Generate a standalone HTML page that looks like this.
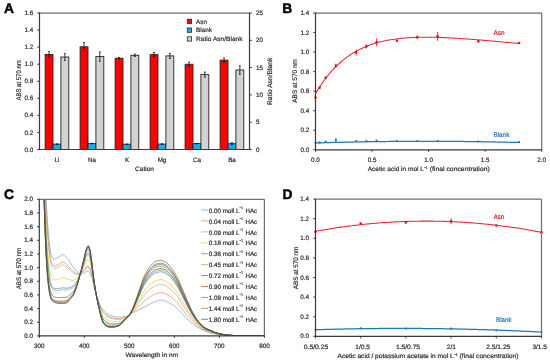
<!DOCTYPE html>
<html><head><meta charset="utf-8"><style>
html,body{margin:0;padding:0;background:#fff;}
svg{display:block;font-family:"Liberation Sans", sans-serif;will-change:transform;text-rendering:geometricPrecision;}
</style></head><body>
<svg width="550" height="362" viewBox="0 0 550 362">
<rect width="550" height="362" fill="#fff"/>
<text x="9.1" y="8.3" font-size="13.8" text-anchor="middle" fill="#000" dominant-baseline="central" font-weight="bold" stroke="#000" stroke-width="0.45">A</text>
<rect x="45.1" y="54.46" width="7.9" height="95.04" fill="#ff0000" stroke="#242424" stroke-width="0.9"/>
<line x1="49.05" y1="51.48" x2="49.05" y2="57.45" stroke="#111" stroke-width="0.8"/>
<line x1="48.15" y1="51.48" x2="49.95" y2="51.48" stroke="#111" stroke-width="0.8"/>
<line x1="48.15" y1="57.45" x2="49.95" y2="57.45" stroke="#111" stroke-width="0.8"/>
<rect x="53" y="144.13" width="7.9" height="5.37" fill="#12aef0" stroke="#242424" stroke-width="0.9"/>
<line x1="56.95" y1="143.87" x2="56.95" y2="144.38" stroke="#111" stroke-width="0.8"/>
<line x1="56.05" y1="143.87" x2="57.85" y2="143.87" stroke="#111" stroke-width="0.8"/>
<line x1="56.05" y1="144.38" x2="57.85" y2="144.38" stroke="#111" stroke-width="0.8"/>
<rect x="60.9" y="57.02" width="7.9" height="92.48" fill="#d2d2d2" stroke="#242424" stroke-width="0.9"/>
<line x1="64.85" y1="53.61" x2="64.85" y2="60.43" stroke="#111" stroke-width="0.8"/>
<line x1="63.95" y1="53.61" x2="65.75" y2="53.61" stroke="#111" stroke-width="0.8"/>
<line x1="63.95" y1="60.43" x2="65.75" y2="60.43" stroke="#111" stroke-width="0.8"/>
<rect x="80.1" y="46.78" width="7.9" height="102.72" fill="#ff0000" stroke="#242424" stroke-width="0.9"/>
<line x1="84.05" y1="42.52" x2="84.05" y2="51.05" stroke="#111" stroke-width="0.8"/>
<line x1="83.15" y1="42.52" x2="84.95" y2="42.52" stroke="#111" stroke-width="0.8"/>
<line x1="83.15" y1="51.05" x2="84.95" y2="51.05" stroke="#111" stroke-width="0.8"/>
<rect x="88" y="143.53" width="7.9" height="5.97" fill="#12aef0" stroke="#242424" stroke-width="0.9"/>
<line x1="91.95" y1="143.27" x2="91.95" y2="143.78" stroke="#111" stroke-width="0.8"/>
<line x1="91.05" y1="143.27" x2="92.85" y2="143.27" stroke="#111" stroke-width="0.8"/>
<line x1="91.05" y1="143.78" x2="92.85" y2="143.78" stroke="#111" stroke-width="0.8"/>
<rect x="95.9" y="56.59" width="7.9" height="92.91" fill="#d2d2d2" stroke="#242424" stroke-width="0.9"/>
<line x1="99.85" y1="51.9" x2="99.85" y2="61.29" stroke="#111" stroke-width="0.8"/>
<line x1="98.95" y1="51.9" x2="100.75" y2="51.9" stroke="#111" stroke-width="0.8"/>
<line x1="98.95" y1="61.29" x2="100.75" y2="61.29" stroke="#111" stroke-width="0.8"/>
<rect x="115.1" y="58.22" width="7.9" height="91.28" fill="#ff0000" stroke="#242424" stroke-width="0.9"/>
<line x1="119.05" y1="57.53" x2="119.05" y2="58.9" stroke="#111" stroke-width="0.8"/>
<line x1="118.15" y1="57.53" x2="119.95" y2="57.53" stroke="#111" stroke-width="0.8"/>
<line x1="118.15" y1="58.9" x2="119.95" y2="58.9" stroke="#111" stroke-width="0.8"/>
<rect x="123" y="144.21" width="7.9" height="5.29" fill="#12aef0" stroke="#242424" stroke-width="0.9"/>
<line x1="126.95" y1="144.04" x2="126.95" y2="144.38" stroke="#111" stroke-width="0.8"/>
<line x1="126.05" y1="144.04" x2="127.85" y2="144.04" stroke="#111" stroke-width="0.8"/>
<line x1="126.05" y1="144.38" x2="127.85" y2="144.38" stroke="#111" stroke-width="0.8"/>
<rect x="130.9" y="55.31" width="7.9" height="94.19" fill="#d2d2d2" stroke="#242424" stroke-width="0.9"/>
<line x1="134.85" y1="54.04" x2="134.85" y2="56.59" stroke="#111" stroke-width="0.8"/>
<line x1="133.95" y1="54.04" x2="135.75" y2="54.04" stroke="#111" stroke-width="0.8"/>
<line x1="133.95" y1="56.59" x2="135.75" y2="56.59" stroke="#111" stroke-width="0.8"/>
<rect x="150.1" y="54.63" width="7.9" height="94.87" fill="#ff0000" stroke="#242424" stroke-width="0.9"/>
<line x1="154.05" y1="52.5" x2="154.05" y2="56.77" stroke="#111" stroke-width="0.8"/>
<line x1="153.15" y1="52.5" x2="154.95" y2="52.5" stroke="#111" stroke-width="0.8"/>
<line x1="153.15" y1="56.77" x2="154.95" y2="56.77" stroke="#111" stroke-width="0.8"/>
<rect x="158" y="144.04" width="7.9" height="5.46" fill="#12aef0" stroke="#242424" stroke-width="0.9"/>
<line x1="161.95" y1="143.87" x2="161.95" y2="144.21" stroke="#111" stroke-width="0.8"/>
<line x1="161.05" y1="143.87" x2="162.85" y2="143.87" stroke="#111" stroke-width="0.8"/>
<line x1="161.05" y1="144.21" x2="162.85" y2="144.21" stroke="#111" stroke-width="0.8"/>
<rect x="165.9" y="55.91" width="7.9" height="93.59" fill="#d2d2d2" stroke="#242424" stroke-width="0.9"/>
<line x1="169.85" y1="53.35" x2="169.85" y2="58.47" stroke="#111" stroke-width="0.8"/>
<line x1="168.95" y1="53.35" x2="170.75" y2="53.35" stroke="#111" stroke-width="0.8"/>
<line x1="168.95" y1="58.47" x2="170.75" y2="58.47" stroke="#111" stroke-width="0.8"/>
<rect x="185.1" y="64.27" width="7.9" height="85.23" fill="#ff0000" stroke="#242424" stroke-width="0.9"/>
<line x1="189.05" y1="62.14" x2="189.05" y2="66.41" stroke="#111" stroke-width="0.8"/>
<line x1="188.15" y1="62.14" x2="189.95" y2="62.14" stroke="#111" stroke-width="0.8"/>
<line x1="188.15" y1="66.41" x2="189.95" y2="66.41" stroke="#111" stroke-width="0.8"/>
<rect x="193" y="143.53" width="7.9" height="5.97" fill="#12aef0" stroke="#242424" stroke-width="0.9"/>
<line x1="196.95" y1="143.27" x2="196.95" y2="143.78" stroke="#111" stroke-width="0.8"/>
<line x1="196.05" y1="143.27" x2="197.85" y2="143.27" stroke="#111" stroke-width="0.8"/>
<line x1="196.05" y1="143.78" x2="197.85" y2="143.78" stroke="#111" stroke-width="0.8"/>
<rect x="200.9" y="74.6" width="7.9" height="74.9" fill="#d2d2d2" stroke="#242424" stroke-width="0.9"/>
<line x1="204.85" y1="72.04" x2="204.85" y2="77.16" stroke="#111" stroke-width="0.8"/>
<line x1="203.95" y1="72.04" x2="205.75" y2="72.04" stroke="#111" stroke-width="0.8"/>
<line x1="203.95" y1="77.16" x2="205.75" y2="77.16" stroke="#111" stroke-width="0.8"/>
<rect x="220.1" y="60.18" width="7.9" height="89.32" fill="#ff0000" stroke="#242424" stroke-width="0.9"/>
<line x1="224.05" y1="58.05" x2="224.05" y2="62.31" stroke="#111" stroke-width="0.8"/>
<line x1="223.15" y1="58.05" x2="224.95" y2="58.05" stroke="#111" stroke-width="0.8"/>
<line x1="223.15" y1="62.31" x2="224.95" y2="62.31" stroke="#111" stroke-width="0.8"/>
<rect x="228" y="143.7" width="7.9" height="5.8" fill="#12aef0" stroke="#242424" stroke-width="0.9"/>
<line x1="231.95" y1="142.68" x2="231.95" y2="144.72" stroke="#111" stroke-width="0.8"/>
<line x1="231.05" y1="142.68" x2="232.85" y2="142.68" stroke="#111" stroke-width="0.8"/>
<line x1="231.05" y1="144.72" x2="232.85" y2="144.72" stroke="#111" stroke-width="0.8"/>
<rect x="235.9" y="69.99" width="7.9" height="79.51" fill="#d2d2d2" stroke="#242424" stroke-width="0.9"/>
<line x1="239.85" y1="65.72" x2="239.85" y2="74.25" stroke="#111" stroke-width="0.8"/>
<line x1="238.95" y1="65.72" x2="240.75" y2="65.72" stroke="#111" stroke-width="0.8"/>
<line x1="238.95" y1="74.25" x2="240.75" y2="74.25" stroke="#111" stroke-width="0.8"/>
<line x1="39.5" y1="13" x2="249.5" y2="13" stroke="#717171" stroke-width="1.25"/>
<line x1="39.5" y1="12.5" x2="39.5" y2="150" stroke="#3a3a3a" stroke-width="1.2"/>
<line x1="249.5" y1="12.5" x2="249.5" y2="150" stroke="#3a3a3a" stroke-width="1.2"/>
<line x1="39" y1="149.5" x2="250" y2="149.5" stroke="#3a3a3a" stroke-width="1.2"/>
<line x1="37.2" y1="149.5" x2="39.5" y2="149.5" stroke="#3a3a3a" stroke-width="1"/>
<text x="33.2" y="150.1" font-size="6.3" text-anchor="end" fill="#2e2e2e" dominant-baseline="central" stroke="#2e2e2e" stroke-width="0.2">0.0</text>
<line x1="37.2" y1="132.44" x2="39.5" y2="132.44" stroke="#3a3a3a" stroke-width="1"/>
<text x="33.2" y="133.04" font-size="6.3" text-anchor="end" fill="#2e2e2e" dominant-baseline="central" stroke="#2e2e2e" stroke-width="0.2">0.2</text>
<line x1="37.2" y1="115.38" x2="39.5" y2="115.38" stroke="#3a3a3a" stroke-width="1"/>
<text x="33.2" y="115.97" font-size="6.3" text-anchor="end" fill="#2e2e2e" dominant-baseline="central" stroke="#2e2e2e" stroke-width="0.2">0.4</text>
<line x1="37.2" y1="98.31" x2="39.5" y2="98.31" stroke="#3a3a3a" stroke-width="1"/>
<text x="33.2" y="98.91" font-size="6.3" text-anchor="end" fill="#2e2e2e" dominant-baseline="central" stroke="#2e2e2e" stroke-width="0.2">0.6</text>
<line x1="37.2" y1="81.25" x2="39.5" y2="81.25" stroke="#3a3a3a" stroke-width="1"/>
<text x="33.2" y="81.85" font-size="6.3" text-anchor="end" fill="#2e2e2e" dominant-baseline="central" stroke="#2e2e2e" stroke-width="0.2">0.8</text>
<line x1="37.2" y1="64.19" x2="39.5" y2="64.19" stroke="#3a3a3a" stroke-width="1"/>
<text x="33.2" y="64.79" font-size="6.3" text-anchor="end" fill="#2e2e2e" dominant-baseline="central" stroke="#2e2e2e" stroke-width="0.2">1.0</text>
<line x1="37.2" y1="47.12" x2="39.5" y2="47.12" stroke="#3a3a3a" stroke-width="1"/>
<text x="33.2" y="47.72" font-size="6.3" text-anchor="end" fill="#2e2e2e" dominant-baseline="central" stroke="#2e2e2e" stroke-width="0.2">1.2</text>
<line x1="37.2" y1="30.06" x2="39.5" y2="30.06" stroke="#3a3a3a" stroke-width="1"/>
<text x="33.2" y="30.66" font-size="6.3" text-anchor="end" fill="#2e2e2e" dominant-baseline="central" stroke="#2e2e2e" stroke-width="0.2">1.4</text>
<line x1="37.2" y1="13" x2="39.5" y2="13" stroke="#3a3a3a" stroke-width="1"/>
<text x="33.2" y="13.6" font-size="6.3" text-anchor="end" fill="#2e2e2e" dominant-baseline="central" stroke="#2e2e2e" stroke-width="0.2">1.6</text>
<line x1="249.5" y1="149.5" x2="251.8" y2="149.5" stroke="#3a3a3a" stroke-width="1"/>
<text x="256" y="150.1" font-size="6.3" text-anchor="start" fill="#2e2e2e" dominant-baseline="central" stroke="#2e2e2e" stroke-width="0.2">0</text>
<line x1="249.5" y1="122.2" x2="251.8" y2="122.2" stroke="#3a3a3a" stroke-width="1"/>
<text x="256" y="122.8" font-size="6.3" text-anchor="start" fill="#2e2e2e" dominant-baseline="central" stroke="#2e2e2e" stroke-width="0.2">5</text>
<line x1="249.5" y1="94.9" x2="251.8" y2="94.9" stroke="#3a3a3a" stroke-width="1"/>
<text x="256" y="95.5" font-size="6.3" text-anchor="start" fill="#2e2e2e" dominant-baseline="central" stroke="#2e2e2e" stroke-width="0.2">10</text>
<line x1="249.5" y1="67.6" x2="251.8" y2="67.6" stroke="#3a3a3a" stroke-width="1"/>
<text x="256" y="68.2" font-size="6.3" text-anchor="start" fill="#2e2e2e" dominant-baseline="central" stroke="#2e2e2e" stroke-width="0.2">15</text>
<line x1="249.5" y1="40.3" x2="251.8" y2="40.3" stroke="#3a3a3a" stroke-width="1"/>
<text x="256" y="40.9" font-size="6.3" text-anchor="start" fill="#2e2e2e" dominant-baseline="central" stroke="#2e2e2e" stroke-width="0.2">20</text>
<line x1="249.5" y1="13" x2="251.8" y2="13" stroke="#3a3a3a" stroke-width="1"/>
<text x="256" y="13.6" font-size="6.3" text-anchor="start" fill="#2e2e2e" dominant-baseline="central" stroke="#2e2e2e" stroke-width="0.2">25</text>
<text x="57" y="160.1" font-size="6.3" text-anchor="middle" fill="#2e2e2e" dominant-baseline="central" stroke="#2e2e2e" stroke-width="0.2">Li</text>
<text x="92" y="160.1" font-size="6.3" text-anchor="middle" fill="#2e2e2e" dominant-baseline="central" stroke="#2e2e2e" stroke-width="0.2">Na</text>
<text x="127" y="160.1" font-size="6.3" text-anchor="middle" fill="#2e2e2e" dominant-baseline="central" stroke="#2e2e2e" stroke-width="0.2">K</text>
<text x="162" y="160.1" font-size="6.3" text-anchor="middle" fill="#2e2e2e" dominant-baseline="central" stroke="#2e2e2e" stroke-width="0.2">Mg</text>
<text x="197" y="160.1" font-size="6.3" text-anchor="middle" fill="#2e2e2e" dominant-baseline="central" stroke="#2e2e2e" stroke-width="0.2">Ca</text>
<text x="232" y="160.1" font-size="6.3" text-anchor="middle" fill="#2e2e2e" dominant-baseline="central" stroke="#2e2e2e" stroke-width="0.2">Ba</text>
<text x="144.5" y="169.4" font-size="6.3" text-anchor="middle" fill="#2e2e2e" dominant-baseline="central" textLength="18.8" lengthAdjust="spacingAndGlyphs" stroke="#2e2e2e" stroke-width="0.2">Cation</text>
<text x="19.3" y="80.4" font-size="6.7" text-anchor="middle" fill="#2e2e2e" dominant-baseline="central" textLength="40.4" lengthAdjust="spacingAndGlyphs" stroke="#2e2e2e" stroke-width="0.2" transform="rotate(-90 19.3 80.4)">ABS at 570 nm</text>
<text x="270.7" y="81.3" font-size="6.6" text-anchor="middle" fill="#2e2e2e" dominant-baseline="central" textLength="47.5" lengthAdjust="spacingAndGlyphs" stroke="#2e2e2e" stroke-width="0.2" transform="rotate(-90 270.7 81.3)">Ratio Asn/Blank</text>
<rect x="187.3" y="19.2" width="4.3" height="4.3" fill="#ff0000" stroke="#2a2a2a" stroke-width="0.8"/>
<text x="196.1" y="22" font-size="6.3" text-anchor="start" fill="#2e2e2e" dominant-baseline="central" stroke="#2e2e2e" stroke-width="0.2">Asn</text>
<rect x="187.3" y="28" width="4.3" height="4.3" fill="#12aef0" stroke="#2a2a2a" stroke-width="0.8"/>
<text x="196.1" y="30.8" font-size="6.3" text-anchor="start" fill="#2e2e2e" dominant-baseline="central" stroke="#2e2e2e" stroke-width="0.2">Blank</text>
<rect x="187.3" y="36.8" width="4.3" height="4.3" fill="#d2d2d2" stroke="#2a2a2a" stroke-width="0.8"/>
<text x="196.1" y="39.6" font-size="6.3" text-anchor="start" fill="#2e2e2e" dominant-baseline="central" textLength="46.5" lengthAdjust="spacingAndGlyphs" stroke="#2e2e2e" stroke-width="0.2">Ratio Asn/Blank</text>
<text x="287.2" y="8.4" font-size="13.8" text-anchor="middle" fill="#000" dominant-baseline="central" font-weight="bold" stroke="#000" stroke-width="0.45">B</text>
<polyline points="315.5,93.76 317.21,90.88 318.92,88.12 320.63,85.48 322.34,82.96 324.05,80.56 325.76,78.26 327.48,76.06 329.19,73.96 330.9,71.96 332.61,70.05 334.32,68.23 336.03,66.49 337.74,64.83 339.45,63.25 341.16,61.75 342.87,60.31 344.58,58.94 346.29,57.64 348,56.4 349.72,55.22 351.43,54.09 353.14,53.02 354.85,52.01 356.56,51.05 358.27,50.13 359.98,49.26 361.69,48.44 363.4,47.65 365.11,46.91 366.82,46.21 368.53,45.55 370.24,44.92 371.95,44.33 373.67,43.77 375.38,43.24 377.09,42.74 378.8,42.28 380.51,41.84 382.22,41.42 383.93,41.04 385.64,40.67 387.35,40.33 389.06,40.02 390.77,39.72 392.48,39.45 394.19,39.2 395.91,38.96 397.62,38.75 399.33,38.55 401.04,38.37 402.75,38.2 404.46,38.05 406.17,37.91 407.88,37.79 409.59,37.68 411.3,37.59 413.01,37.51 414.72,37.44 416.43,37.38 418.15,37.33 419.86,37.29 421.57,37.26 423.28,37.24 424.99,37.23 426.7,37.23 428.41,37.24 430.12,37.26 431.83,37.28 433.54,37.31 435.25,37.35 436.96,37.39 438.67,37.44 440.39,37.5 442.1,37.56 443.81,37.63 445.52,37.7 447.23,37.78 448.94,37.86 450.65,37.95 452.36,38.04 454.07,38.13 455.78,38.23 457.49,38.34 459.2,38.45 460.91,38.56 462.63,38.67 464.34,38.79 466.05,38.91 467.76,39.03 469.47,39.16 471.18,39.28 472.89,39.42 474.6,39.55 476.31,39.68 478.02,39.82 479.73,39.96 481.44,40.1 483.15,40.24 484.86,40.39 486.58,40.53 488.29,40.68 490,40.83 491.71,40.98 493.42,41.13 495.13,41.28 496.84,41.44 498.55,41.59 500.26,41.74 501.97,41.9 503.68,42.06 505.39,42.22 507.1,42.37 508.82,42.53 510.53,42.69 512.24,42.85 513.95,43.01 515.66,43.17 517.37,43.34 519.08,43.5" fill="none" stroke="#e8242a" stroke-width="1.05" stroke-linejoin="round"/>
<polyline points="315.5,142.96 317.21,142.91 318.92,142.86 320.63,142.81 322.34,142.76 324.05,142.71 325.76,142.66 327.48,142.62 329.19,142.57 330.9,142.53 332.61,142.48 334.32,142.44 336.03,142.4 337.74,142.36 339.45,142.31 341.16,142.27 342.87,142.24 344.58,142.2 346.29,142.16 348,142.12 349.72,142.09 351.43,142.05 353.14,142.02 354.85,141.98 356.56,141.95 358.27,141.92 359.98,141.89 361.69,141.86 363.4,141.83 365.11,141.8 366.82,141.77 368.53,141.74 370.24,141.72 371.95,141.69 373.67,141.67 375.38,141.64 377.09,141.62 378.8,141.6 380.51,141.58 382.22,141.55 383.93,141.53 385.64,141.52 387.35,141.5 389.06,141.48 390.77,141.46 392.48,141.45 394.19,141.43 395.91,141.42 397.62,141.4 399.33,141.39 401.04,141.38 402.75,141.37 404.46,141.36 406.17,141.35 407.88,141.34 409.59,141.33 411.3,141.33 413.01,141.32 414.72,141.31 416.43,141.31 418.15,141.3 419.86,141.3 421.57,141.3 423.28,141.3 424.99,141.3 426.7,141.3 428.41,141.3 430.12,141.3 431.83,141.3 433.54,141.31 435.25,141.31 436.96,141.32 438.67,141.32 440.39,141.33 442.1,141.34 443.81,141.34 445.52,141.35 447.23,141.36 448.94,141.37 450.65,141.38 452.36,141.4 454.07,141.41 455.78,141.42 457.49,141.44 459.2,141.45 460.91,141.47 462.63,141.49 464.34,141.51 466.05,141.52 467.76,141.54 469.47,141.56 471.18,141.58 472.89,141.61 474.6,141.63 476.31,141.65 478.02,141.68 479.73,141.7 481.44,141.73 483.15,141.76 484.86,141.78 486.58,141.81 488.29,141.84 490,141.87 491.71,141.9 493.42,141.93 495.13,141.96 496.84,142 498.55,142.03 500.26,142.07 501.97,142.1 503.68,142.14 505.39,142.18 507.1,142.21 508.82,142.25 510.53,142.29 512.24,142.33 513.95,142.37 515.66,142.42 517.37,142.46 519.08,142.5" fill="none" stroke="#1f77b8" stroke-width="1.25" stroke-linejoin="round"/>
<circle cx="315.5" cy="97.62" r="1.3" fill="#e8141c"/>
<circle cx="319.57" cy="87.75" r="1.3" fill="#e8141c"/>
<line x1="319.57" y1="86.77" x2="319.57" y2="88.73" stroke="#e8141c" stroke-width="0.9"/>
<circle cx="325.68" cy="77.78" r="1.3" fill="#e8141c"/>
<line x1="325.68" y1="76.32" x2="325.68" y2="79.25" stroke="#e8141c" stroke-width="0.9"/>
<circle cx="335.86" cy="65.77" r="1.3" fill="#e8141c"/>
<line x1="335.86" y1="63.62" x2="335.86" y2="67.92" stroke="#e8141c" stroke-width="0.9"/>
<circle cx="356.22" cy="52.57" r="1.3" fill="#e8141c"/>
<line x1="356.22" y1="49.64" x2="356.22" y2="55.51" stroke="#e8141c" stroke-width="0.9"/>
<circle cx="366.39" cy="46.42" r="1.3" fill="#e8141c"/>
<line x1="366.39" y1="44.27" x2="366.39" y2="48.57" stroke="#e8141c" stroke-width="0.9"/>
<circle cx="376.57" cy="42.31" r="1.3" fill="#e8141c"/>
<line x1="376.57" y1="38.41" x2="376.57" y2="46.22" stroke="#e8141c" stroke-width="0.9"/>
<circle cx="396.93" cy="40.75" r="1.3" fill="#e8141c"/>
<line x1="396.93" y1="39.58" x2="396.93" y2="41.92" stroke="#e8141c" stroke-width="0.9"/>
<circle cx="417.29" cy="37.23" r="1.3" fill="#e8141c"/>
<line x1="417.29" y1="35.28" x2="417.29" y2="39.19" stroke="#e8141c" stroke-width="0.9"/>
<circle cx="437.65" cy="36.35" r="1.3" fill="#e8141c"/>
<line x1="437.65" y1="31.96" x2="437.65" y2="40.75" stroke="#e8141c" stroke-width="0.9"/>
<circle cx="478.36" cy="41.24" r="1.3" fill="#e8141c"/>
<line x1="478.36" y1="40.07" x2="478.36" y2="42.41" stroke="#e8141c" stroke-width="0.9"/>
<circle cx="519.08" cy="43" r="1.3" fill="#e8141c"/>
<line x1="519.08" y1="42.41" x2="519.08" y2="43.58" stroke="#e8141c" stroke-width="0.9"/>
<circle cx="315.5" cy="142.76" r="1.1" fill="#1f77b8"/>
<circle cx="319.57" cy="142.47" r="1.1" fill="#1f77b8"/>
<circle cx="325.68" cy="141.49" r="1.1" fill="#1f77b8"/>
<circle cx="335.86" cy="140.03" r="1.1" fill="#1f77b8"/>
<line x1="335.86" y1="138.07" x2="335.86" y2="141.98" stroke="#1f77b8" stroke-width="0.9"/>
<circle cx="356.22" cy="141.01" r="1.1" fill="#1f77b8"/>
<circle cx="366.39" cy="141.01" r="1.1" fill="#1f77b8"/>
<circle cx="376.57" cy="140.52" r="1.1" fill="#1f77b8"/>
<line x1="376.57" y1="140.03" x2="376.57" y2="141.01" stroke="#1f77b8" stroke-width="0.9"/>
<circle cx="396.93" cy="141.01" r="1.1" fill="#1f77b8"/>
<circle cx="417.29" cy="141.01" r="1.1" fill="#1f77b8"/>
<circle cx="437.65" cy="141.01" r="1.1" fill="#1f77b8"/>
<circle cx="478.36" cy="141.49" r="1.1" fill="#1f77b8"/>
<circle cx="519.08" cy="142.18" r="1.1" fill="#1f77b8"/>
<line x1="315.5" y1="13" x2="541.7" y2="13" stroke="#717171" stroke-width="1.25"/>
<line x1="541.7" y1="13" x2="541.7" y2="149.8" stroke="#717171" stroke-width="1.25"/>
<line x1="315.5" y1="12.5" x2="315.5" y2="150.3" stroke="#3a3a3a" stroke-width="1.2"/>
<line x1="315" y1="149.8" x2="542.2" y2="149.8" stroke="#3a3a3a" stroke-width="1.2"/>
<line x1="313.3" y1="149.8" x2="315.5" y2="149.8" stroke="#3a3a3a" stroke-width="1"/>
<text x="309.3" y="150.4" font-size="6.3" text-anchor="end" fill="#2e2e2e" dominant-baseline="central" stroke="#2e2e2e" stroke-width="0.2">0.0</text>
<line x1="313.3" y1="130.26" x2="315.5" y2="130.26" stroke="#3a3a3a" stroke-width="1"/>
<text x="309.3" y="130.86" font-size="6.3" text-anchor="end" fill="#2e2e2e" dominant-baseline="central" stroke="#2e2e2e" stroke-width="0.2">0.2</text>
<line x1="313.3" y1="110.71" x2="315.5" y2="110.71" stroke="#3a3a3a" stroke-width="1"/>
<text x="309.3" y="111.31" font-size="6.3" text-anchor="end" fill="#2e2e2e" dominant-baseline="central" stroke="#2e2e2e" stroke-width="0.2">0.4</text>
<line x1="313.3" y1="91.17" x2="315.5" y2="91.17" stroke="#3a3a3a" stroke-width="1"/>
<text x="309.3" y="91.77" font-size="6.3" text-anchor="end" fill="#2e2e2e" dominant-baseline="central" stroke="#2e2e2e" stroke-width="0.2">0.6</text>
<line x1="313.3" y1="71.63" x2="315.5" y2="71.63" stroke="#3a3a3a" stroke-width="1"/>
<text x="309.3" y="72.23" font-size="6.3" text-anchor="end" fill="#2e2e2e" dominant-baseline="central" stroke="#2e2e2e" stroke-width="0.2">0.8</text>
<line x1="313.3" y1="52.09" x2="315.5" y2="52.09" stroke="#3a3a3a" stroke-width="1"/>
<text x="309.3" y="52.69" font-size="6.3" text-anchor="end" fill="#2e2e2e" dominant-baseline="central" stroke="#2e2e2e" stroke-width="0.2">1.0</text>
<line x1="313.3" y1="32.54" x2="315.5" y2="32.54" stroke="#3a3a3a" stroke-width="1"/>
<text x="309.3" y="33.14" font-size="6.3" text-anchor="end" fill="#2e2e2e" dominant-baseline="central" stroke="#2e2e2e" stroke-width="0.2">1.2</text>
<line x1="313.3" y1="13" x2="315.5" y2="13" stroke="#3a3a3a" stroke-width="1"/>
<text x="309.3" y="13.6" font-size="6.3" text-anchor="end" fill="#2e2e2e" dominant-baseline="central" stroke="#2e2e2e" stroke-width="0.2">1.4</text>
<line x1="315.5" y1="149.8" x2="315.5" y2="151.8" stroke="#3a3a3a" stroke-width="1"/>
<text x="315.5" y="160.4" font-size="6.3" text-anchor="middle" fill="#2e2e2e" dominant-baseline="central" stroke="#2e2e2e" stroke-width="0.2">0.0</text>
<line x1="372.05" y1="149.8" x2="372.05" y2="151.8" stroke="#3a3a3a" stroke-width="1"/>
<text x="372.05" y="160.4" font-size="6.3" text-anchor="middle" fill="#2e2e2e" dominant-baseline="central" stroke="#2e2e2e" stroke-width="0.2">0.5</text>
<line x1="428.6" y1="149.8" x2="428.6" y2="151.8" stroke="#3a3a3a" stroke-width="1"/>
<text x="428.6" y="160.4" font-size="6.3" text-anchor="middle" fill="#2e2e2e" dominant-baseline="central" stroke="#2e2e2e" stroke-width="0.2">1.0</text>
<line x1="485.15" y1="149.8" x2="485.15" y2="151.8" stroke="#3a3a3a" stroke-width="1"/>
<text x="485.15" y="160.4" font-size="6.3" text-anchor="middle" fill="#2e2e2e" dominant-baseline="central" stroke="#2e2e2e" stroke-width="0.2">1.5</text>
<line x1="541.7" y1="149.8" x2="541.7" y2="151.8" stroke="#3a3a3a" stroke-width="1"/>
<text x="541.7" y="160.4" font-size="6.3" text-anchor="middle" fill="#2e2e2e" dominant-baseline="central" stroke="#2e2e2e" stroke-width="0.2">2.0</text>
<text x="367.7" y="169" font-size="6.3" text-anchor="start" fill="#2e2e2e" dominant-baseline="central" textLength="56.3" lengthAdjust="spacingAndGlyphs" stroke="#2e2e2e" stroke-width="0.2">Acetic acid in mol L</text>
<text x="424" y="167.9" font-size="3.9059999999999997" text-anchor="start" fill="#2e2e2e" dominant-baseline="central" textLength="3.6" lengthAdjust="spacingAndGlyphs" stroke="#2e2e2e" stroke-width="0.2">−1</text>
<text x="429.7" y="169" font-size="6.3" text-anchor="start" fill="#2e2e2e" dominant-baseline="central" textLength="60.1" lengthAdjust="spacingAndGlyphs" stroke="#2e2e2e" stroke-width="0.2">(final concentration)</text>
<text x="295.1" y="80.9" font-size="6.6" text-anchor="middle" fill="#2e2e2e" dominant-baseline="central" textLength="43.6" lengthAdjust="spacingAndGlyphs" stroke="#2e2e2e" stroke-width="0.2" transform="rotate(-90 295.1 80.9)">ABS at 570 nm</text>
<text x="499.1" y="33.8" font-size="6.8" text-anchor="middle" fill="#d8202a" dominant-baseline="central" textLength="11" lengthAdjust="spacingAndGlyphs" stroke="#d8202a" stroke-width="0.2">Asn</text>
<text x="501.4" y="135.3" font-size="6.8" text-anchor="middle" fill="#2a78b8" dominant-baseline="central" textLength="15.8" lengthAdjust="spacingAndGlyphs" stroke="#2a78b8" stroke-width="0.2">Blank</text>
<text x="287.4" y="194.6" font-size="13.8" text-anchor="middle" fill="#000" dominant-baseline="central" font-weight="bold" stroke="#000" stroke-width="0.45">D</text>
<polyline points="315.5,231.37 317.02,231.09 318.53,230.81 320.05,230.54 321.57,230.27 323.08,230.01 324.6,229.75 326.12,229.49 327.63,229.24 329.15,228.99 330.67,228.75 332.18,228.51 333.7,228.27 335.22,228.04 336.73,227.81 338.25,227.58 339.77,227.36 341.29,227.14 342.8,226.93 344.32,226.72 345.84,226.51 347.35,226.31 348.87,226.11 350.39,225.92 351.9,225.73 353.42,225.54 354.94,225.36 356.45,225.18 357.97,225 359.49,224.83 361,224.66 362.52,224.5 364.04,224.34 365.55,224.18 367.07,224.03 368.59,223.88 370.1,223.74 371.62,223.6 373.14,223.46 374.65,223.33 376.17,223.2 377.69,223.07 379.2,222.95 380.72,222.83 382.24,222.72 383.76,222.61 385.27,222.51 386.79,222.4 388.31,222.31 389.82,222.21 391.34,222.12 392.86,222.03 394.37,221.95 395.89,221.87 397.41,221.8 398.92,221.73 400.44,221.66 401.96,221.6 403.47,221.54 404.99,221.48 406.51,221.43 408.02,221.38 409.54,221.34 411.06,221.3 412.57,221.26 414.09,221.23 415.61,221.2 417.12,221.18 418.64,221.15 420.16,221.14 421.67,221.12 423.19,221.12 424.71,221.11 426.22,221.11 427.74,221.11 429.26,221.12 430.78,221.13 432.29,221.14 433.81,221.16 435.33,221.18 436.84,221.21 438.36,221.24 439.88,221.27 441.39,221.31 442.91,221.35 444.43,221.39 445.94,221.44 447.46,221.49 448.98,221.55 450.49,221.61 452.01,221.67 453.53,221.74 455.04,221.81 456.56,221.89 458.08,221.97 459.59,222.05 461.11,222.14 462.63,222.23 464.14,222.33 465.66,222.42 467.18,222.53 468.69,222.63 470.21,222.74 471.73,222.86 473.24,222.98 474.76,223.1 476.28,223.22 477.8,223.35 479.31,223.49 480.83,223.63 482.35,223.77 483.86,223.91 485.38,224.06 486.9,224.21 488.41,224.37 489.93,224.53 491.45,224.7 492.96,224.87 494.48,225.04 496,225.21 497.51,225.39 499.03,225.58 500.55,225.77 502.06,225.96 503.58,226.15 505.1,226.35 506.61,226.55 508.13,226.76 509.65,226.97 511.16,227.19 512.68,227.41 514.2,227.63 515.71,227.85 517.23,228.09 518.75,228.32 520.27,228.56 521.78,228.8 523.3,229.04 524.82,229.29 526.33,229.55 527.85,229.8 529.37,230.07 530.88,230.33 532.4,230.6 533.92,230.87 535.43,231.15 536.95,231.43 538.47,231.71 539.98,232 541.5,232.29" fill="none" stroke="#e8242a" stroke-width="1.05" stroke-linejoin="round"/>
<polyline points="315.5,329.74 317.02,329.69 318.53,329.64 320.05,329.6 321.57,329.55 323.08,329.51 324.6,329.47 326.12,329.43 327.63,329.39 329.15,329.34 330.67,329.31 332.18,329.27 333.7,329.23 335.22,329.19 336.73,329.16 338.25,329.12 339.77,329.09 341.29,329.05 342.8,329.02 344.32,328.99 345.84,328.96 347.35,328.93 348.87,328.9 350.39,328.87 351.9,328.84 353.42,328.82 354.94,328.79 356.45,328.77 357.97,328.74 359.49,328.72 361,328.7 362.52,328.67 364.04,328.65 365.55,328.63 367.07,328.61 368.59,328.6 370.1,328.58 371.62,328.56 373.14,328.55 374.65,328.53 376.17,328.52 377.69,328.5 379.2,328.49 380.72,328.48 382.24,328.47 383.76,328.46 385.27,328.45 386.79,328.44 388.31,328.44 389.82,328.43 391.34,328.42 392.86,328.42 394.37,328.42 395.89,328.41 397.41,328.41 398.92,328.41 400.44,328.41 401.96,328.41 403.47,328.41 404.99,328.41 406.51,328.42 408.02,328.42 409.54,328.42 411.06,328.43 412.57,328.44 414.09,328.44 415.61,328.45 417.12,328.46 418.64,328.47 420.16,328.48 421.67,328.49 423.19,328.51 424.71,328.52 426.22,328.53 427.74,328.55 429.26,328.56 430.78,328.58 432.29,328.6 433.81,328.62 435.33,328.63 436.84,328.65 438.36,328.67 439.88,328.7 441.39,328.72 442.91,328.74 444.43,328.77 445.94,328.79 447.46,328.82 448.98,328.84 450.49,328.87 452.01,328.9 453.53,328.93 455.04,328.96 456.56,328.99 458.08,329.02 459.59,329.05 461.11,329.09 462.63,329.12 464.14,329.16 465.66,329.19 467.18,329.23 468.69,329.27 470.21,329.31 471.73,329.35 473.24,329.39 474.76,329.43 476.28,329.47 477.8,329.51 479.31,329.56 480.83,329.6 482.35,329.65 483.86,329.69 485.38,329.74 486.9,329.79 488.41,329.84 489.93,329.89 491.45,329.94 492.96,329.99 494.48,330.04 496,330.09 497.51,330.15 499.03,330.2 500.55,330.26 502.06,330.31 503.58,330.37 505.1,330.43 506.61,330.49 508.13,330.55 509.65,330.61 511.16,330.67 512.68,330.73 514.2,330.79 515.71,330.86 517.23,330.92 518.75,330.99 520.27,331.06 521.78,331.12 523.3,331.19 524.82,331.26 526.33,331.33 527.85,331.4 529.37,331.47 530.88,331.54 532.4,331.62 533.92,331.69 535.43,331.77 536.95,331.84 538.47,331.92 539.98,332 541.5,332.08" fill="none" stroke="#1f77b8" stroke-width="1.25" stroke-linejoin="round"/>
<circle cx="315.5" cy="231.83" r="1.3" fill="#e8141c"/>
<line x1="315.5" y1="231.34" x2="315.5" y2="232.32" stroke="#e8141c" stroke-width="0.9"/>
<circle cx="360.7" cy="223.5" r="1.3" fill="#e8141c"/>
<line x1="360.7" y1="222.72" x2="360.7" y2="224.29" stroke="#e8141c" stroke-width="0.9"/>
<circle cx="405.9" cy="222.42" r="1.3" fill="#e8141c"/>
<line x1="405.9" y1="221.93" x2="405.9" y2="222.91" stroke="#e8141c" stroke-width="0.9"/>
<circle cx="451.1" cy="221.25" r="1.3" fill="#e8141c"/>
<line x1="451.1" y1="218.31" x2="451.1" y2="224.19" stroke="#e8141c" stroke-width="0.9"/>
<circle cx="496.3" cy="225.56" r="1.3" fill="#e8141c"/>
<line x1="496.3" y1="225.07" x2="496.3" y2="226.05" stroke="#e8141c" stroke-width="0.9"/>
<circle cx="541.5" cy="232.13" r="1.3" fill="#e8141c"/>
<line x1="541.5" y1="231.34" x2="541.5" y2="232.91" stroke="#e8141c" stroke-width="0.9"/>
<circle cx="315.5" cy="329.83" r="1.1" fill="#1f77b8"/>
<circle cx="360.7" cy="328.46" r="1.1" fill="#1f77b8"/>
<circle cx="405.9" cy="328.66" r="1.1" fill="#1f77b8"/>
<circle cx="451.1" cy="328.66" r="1.1" fill="#1f77b8"/>
<circle cx="496.3" cy="330.32" r="1.1" fill="#1f77b8"/>
<circle cx="541.5" cy="331.99" r="1.1" fill="#1f77b8"/>
<line x1="315.5" y1="199.1" x2="541.5" y2="199.1" stroke="#717171" stroke-width="1.25"/>
<line x1="541.5" y1="199.1" x2="541.5" y2="336.3" stroke="#717171" stroke-width="1.25"/>
<line x1="315.5" y1="198.6" x2="315.5" y2="336.8" stroke="#3a3a3a" stroke-width="1.2"/>
<line x1="315" y1="336.3" x2="542" y2="336.3" stroke="#3a3a3a" stroke-width="1.2"/>
<line x1="313.3" y1="336.3" x2="315.5" y2="336.3" stroke="#3a3a3a" stroke-width="1"/>
<text x="309.1" y="336.9" font-size="6.3" text-anchor="end" fill="#2e2e2e" dominant-baseline="central" stroke="#2e2e2e" stroke-width="0.2">0.0</text>
<line x1="313.3" y1="316.7" x2="315.5" y2="316.7" stroke="#3a3a3a" stroke-width="1"/>
<text x="309.1" y="317.3" font-size="6.3" text-anchor="end" fill="#2e2e2e" dominant-baseline="central" stroke="#2e2e2e" stroke-width="0.2">0.2</text>
<line x1="313.3" y1="297.1" x2="315.5" y2="297.1" stroke="#3a3a3a" stroke-width="1"/>
<text x="309.1" y="297.7" font-size="6.3" text-anchor="end" fill="#2e2e2e" dominant-baseline="central" stroke="#2e2e2e" stroke-width="0.2">0.4</text>
<line x1="313.3" y1="277.5" x2="315.5" y2="277.5" stroke="#3a3a3a" stroke-width="1"/>
<text x="309.1" y="278.1" font-size="6.3" text-anchor="end" fill="#2e2e2e" dominant-baseline="central" stroke="#2e2e2e" stroke-width="0.2">0.6</text>
<line x1="313.3" y1="257.9" x2="315.5" y2="257.9" stroke="#3a3a3a" stroke-width="1"/>
<text x="309.1" y="258.5" font-size="6.3" text-anchor="end" fill="#2e2e2e" dominant-baseline="central" stroke="#2e2e2e" stroke-width="0.2">0.8</text>
<line x1="313.3" y1="238.3" x2="315.5" y2="238.3" stroke="#3a3a3a" stroke-width="1"/>
<text x="309.1" y="238.9" font-size="6.3" text-anchor="end" fill="#2e2e2e" dominant-baseline="central" stroke="#2e2e2e" stroke-width="0.2">1.0</text>
<line x1="313.3" y1="218.7" x2="315.5" y2="218.7" stroke="#3a3a3a" stroke-width="1"/>
<text x="309.1" y="219.3" font-size="6.3" text-anchor="end" fill="#2e2e2e" dominant-baseline="central" stroke="#2e2e2e" stroke-width="0.2">1.2</text>
<line x1="313.3" y1="199.1" x2="315.5" y2="199.1" stroke="#3a3a3a" stroke-width="1"/>
<text x="309.1" y="199.7" font-size="6.3" text-anchor="end" fill="#2e2e2e" dominant-baseline="central" stroke="#2e2e2e" stroke-width="0.2">1.4</text>
<line x1="315.5" y1="336.3" x2="315.5" y2="338.3" stroke="#3a3a3a" stroke-width="1"/>
<text x="316" y="347" font-size="6.3" text-anchor="middle" fill="#2e2e2e" dominant-baseline="central" textLength="24.4" lengthAdjust="spacingAndGlyphs" stroke="#2e2e2e" stroke-width="0.2">0.5/0.25</text>
<line x1="360.7" y1="336.3" x2="360.7" y2="338.3" stroke="#3a3a3a" stroke-width="1"/>
<text x="362.6" y="347" font-size="6.3" text-anchor="middle" fill="#2e2e2e" dominant-baseline="central" textLength="14.8" lengthAdjust="spacingAndGlyphs" stroke="#2e2e2e" stroke-width="0.2">1/0.5</text>
<line x1="405.9" y1="336.3" x2="405.9" y2="338.3" stroke="#3a3a3a" stroke-width="1"/>
<text x="408" y="347" font-size="6.3" text-anchor="middle" fill="#2e2e2e" dominant-baseline="central" textLength="24.2" lengthAdjust="spacingAndGlyphs" stroke="#2e2e2e" stroke-width="0.2">1.5/0.75</text>
<line x1="451.1" y1="336.3" x2="451.1" y2="338.3" stroke="#3a3a3a" stroke-width="1"/>
<text x="451.4" y="347" font-size="6.3" text-anchor="middle" fill="#2e2e2e" dominant-baseline="central" textLength="9.3" lengthAdjust="spacingAndGlyphs" stroke="#2e2e2e" stroke-width="0.2">2/1</text>
<line x1="496.3" y1="336.3" x2="496.3" y2="338.3" stroke="#3a3a3a" stroke-width="1"/>
<text x="498.3" y="347" font-size="6.3" text-anchor="middle" fill="#2e2e2e" dominant-baseline="central" textLength="24" lengthAdjust="spacingAndGlyphs" stroke="#2e2e2e" stroke-width="0.2">2.5/1.25</text>
<line x1="541.5" y1="336.3" x2="541.5" y2="338.3" stroke="#3a3a3a" stroke-width="1"/>
<text x="539.7" y="347" font-size="6.3" text-anchor="middle" fill="#2e2e2e" dominant-baseline="central" textLength="14.6" lengthAdjust="spacingAndGlyphs" stroke="#2e2e2e" stroke-width="0.2">3/1.5</text>
<text x="337.6" y="356" font-size="6.3" text-anchor="start" fill="#2e2e2e" dominant-baseline="central" textLength="116.2" lengthAdjust="spacingAndGlyphs" stroke="#2e2e2e" stroke-width="0.2">Acetic acid / potassium acetate in mol L</text>
<text x="453.9" y="354.9" font-size="3.9059999999999997" text-anchor="start" fill="#2e2e2e" dominant-baseline="central" textLength="3.8" lengthAdjust="spacingAndGlyphs" stroke="#2e2e2e" stroke-width="0.2">−1</text>
<text x="459.6" y="356" font-size="6.3" text-anchor="start" fill="#2e2e2e" dominant-baseline="central" textLength="59" lengthAdjust="spacingAndGlyphs" stroke="#2e2e2e" stroke-width="0.2">(final concentration)</text>
<text x="296.5" y="267.9" font-size="6.6" text-anchor="middle" fill="#2e2e2e" dominant-baseline="central" textLength="42.6" lengthAdjust="spacingAndGlyphs" stroke="#2e2e2e" stroke-width="0.2" transform="rotate(-90 296.5 267.9)">ABS at 570 nm</text>
<text x="499" y="217.9" font-size="6.8" text-anchor="middle" fill="#d8202a" dominant-baseline="central" textLength="10.5" lengthAdjust="spacingAndGlyphs" stroke="#d8202a" stroke-width="0.2">Asn</text>
<text x="503.8" y="320.6" font-size="6.8" text-anchor="middle" fill="#2a78b8" dominant-baseline="central" textLength="15.4" lengthAdjust="spacingAndGlyphs" stroke="#2a78b8" stroke-width="0.2">Blank</text>
<text x="9.1" y="194.5" font-size="13.8" text-anchor="middle" fill="#000" dominant-baseline="central" font-weight="bold" stroke="#000" stroke-width="0.45">C</text>
<clipPath id="cc"><rect x="39.3" y="199.3" width="225.1" height="136.6"/></clipPath>
<g clip-path="url(#cc)">
<polyline points="39.3,178.81 39.75,178.81 40.2,178.81 40.65,178.81 41.1,178.81 41.55,178.81 42,178.81 42.45,178.81 42.9,178.81 43.35,178.81 43.8,178.81 44.25,178.81 44.7,178.81 45.15,180.22 45.6,190.42 46.05,199.3 46.5,207.17 46.95,214.29 47.4,220.74 47.85,226.62 48.3,232.13 48.75,237.28 49.2,241.88 49.65,245.74 50.1,249.03 50.55,251.84 51.01,253.94 51.46,255.52 51.91,256.84 52.36,257.77 52.81,258.23 53.26,258.57 53.71,258.83 54.16,259 54.61,259.06 55.06,259.02 55.51,258.89 55.96,258.69 56.41,258.45 56.86,258.17 57.31,257.89 57.76,257.61 58.21,257.36 58.66,257.09 59.11,256.77 59.56,256.41 60.01,256.05 60.46,255.69 60.91,255.36 61.36,255.06 61.81,254.83 62.26,254.68 62.71,254.62 63.16,254.68 63.61,254.83 64.06,255.07 64.51,255.38 64.96,255.75 65.41,256.17 65.86,256.62 66.31,257.09 66.76,257.57 67.21,258.04 67.66,258.56 68.11,259.17 68.56,259.85 69.01,260.59 69.46,261.34 69.91,262.1 70.36,262.82 70.81,263.5 71.26,264.15 71.71,264.79 72.16,265.42 72.61,266.05 73.06,266.67 73.52,267.27 73.97,267.86 74.42,268.42 74.87,268.97 75.32,269.51 75.77,270.06 76.22,270.62 76.67,271.15 77.12,271.65 77.57,272.09 78.02,272.45 78.47,272.72 78.92,272.94 79.37,273.15 79.82,273.34 80.27,273.51 80.72,273.63 81.17,273.72 81.62,273.75 82.07,273.7 82.52,273.57 82.97,273.38 83.42,273.17 83.87,272.94 84.32,272.72 84.77,272.48 85.22,272.18 85.67,271.85 86.12,271.54 86.57,271.27 87.02,271.09 87.47,271.01 87.92,271.11 88.37,271.39 88.82,271.82 89.27,272.36 89.72,273 90.17,273.7 90.62,274.43 91.07,275.36 91.52,276.62 91.97,278.12 92.42,279.79 92.87,281.55 93.32,283.32 93.77,285.02 94.22,286.73 94.67,288.57 95.12,290.45 95.57,292.3 96.03,294.04 96.48,295.6 96.93,296.99 97.38,298.29 97.83,299.5 98.28,300.65 98.73,301.75 99.18,302.82 99.63,303.85 100.08,304.83 100.53,305.73 100.98,306.53 101.43,307.26 101.88,307.94 102.33,308.58 102.78,309.19 103.23,309.76 103.68,310.31 104.13,310.82 104.58,311.31 105.03,311.78 105.48,312.22 105.93,312.64 106.38,313.02 106.83,313.36 107.28,313.68 107.73,313.98 108.18,314.27 108.63,314.54 109.08,314.79 109.53,315.02 109.98,315.23 110.43,315.41 110.88,315.57 111.33,315.73 111.78,315.88 112.23,316.01 112.68,316.14 113.13,316.26 113.58,316.37 114.03,316.47 114.48,316.56 114.93,316.64 115.38,316.71 115.83,316.79 116.28,316.86 116.73,316.93 117.18,316.99 117.63,317.04 118.08,317.08 118.54,317.11 118.99,317.12 119.44,317.11 119.89,317.1 120.34,317.09 120.79,317.07 121.24,317.04 121.69,317.02 122.14,316.98 122.59,316.95 123.04,316.91 123.49,316.86 123.94,316.79 124.39,316.7 124.84,316.59 125.29,316.48 125.74,316.35 126.19,316.22 126.64,316.09 127.09,315.96 127.54,315.81 127.99,315.64 128.44,315.47 128.89,315.28 129.34,315.07 129.79,314.83 130.24,314.55 130.69,314.24 131.14,313.92 131.59,313.59 132.04,313.26 132.49,312.96 132.94,312.68 133.39,312.42 133.84,312.17 134.29,311.93 134.74,311.7 135.19,311.47 135.64,311.24 136.09,311.02 136.54,310.81 136.99,310.59 137.44,310.38 137.89,310.16 138.34,309.95 138.79,309.73 139.24,309.53 139.69,309.33 140.14,309.13 140.59,308.93 141.05,308.73 141.5,308.53 141.95,308.32 142.4,308.11 142.85,307.9 143.3,307.67 143.75,307.44 144.2,307.21 144.65,306.97 145.1,306.73 145.55,306.49 146,306.25 146.45,306 146.9,305.76 147.35,305.52 147.8,305.28 148.25,305.05 148.7,304.81 149.15,304.57 149.6,304.33 150.05,304.09 150.5,303.84 150.95,303.6 151.4,303.37 151.85,303.13 152.3,302.91 152.75,302.69 153.2,302.48 153.65,302.28 154.1,302.09 154.55,301.91 155,301.72 155.45,301.52 155.9,301.33 156.35,301.14 156.8,300.97 157.25,300.8 157.7,300.64 158.15,300.5 158.6,300.38 159.05,300.28 159.5,300.21 159.95,300.16 160.4,300.11 160.85,300.08 161.3,300.05 161.75,300.04 162.2,300.07 162.65,300.14 163.1,300.24 163.56,300.39 164.01,300.55 164.46,300.74 164.91,300.94 165.36,301.15 165.81,301.35 166.26,301.56 166.71,301.75 167.16,301.94 167.61,302.13 168.06,302.33 168.51,302.54 168.96,302.76 169.41,302.98 169.86,303.21 170.31,303.45 170.76,303.69 171.21,303.95 171.66,304.21 172.11,304.48 172.56,304.76 173.01,305.06 173.46,305.37 173.91,305.7 174.36,306.04 174.81,306.39 175.26,306.75 175.71,307.12 176.16,307.5 176.61,307.9 177.06,308.31 177.51,308.75 177.96,309.21 178.41,309.69 178.86,310.19 179.31,310.69 179.76,311.19 180.21,311.7 180.66,312.19 181.11,312.68 181.56,313.16 182.01,313.65 182.46,314.14 182.91,314.63 183.36,315.11 183.81,315.6 184.26,316.08 184.71,316.55 185.16,317.01 185.61,317.46 186.07,317.9 186.52,318.33 186.97,318.76 187.42,319.18 187.87,319.59 188.32,320 188.77,320.4 189.22,320.8 189.67,321.18 190.12,321.56 190.57,321.93 191.02,322.29 191.47,322.64 191.92,322.98 192.37,323.33 192.82,323.66 193.27,323.99 193.72,324.32 194.17,324.65 194.62,324.97 195.07,325.3 195.52,325.62 195.97,325.94 196.42,326.26 196.87,326.58 197.32,326.89 197.77,327.19 198.22,327.49 198.67,327.77 199.12,328.05 199.57,328.31 200.02,328.57 200.47,328.83 200.92,329.08 201.37,329.33 201.82,329.57 202.27,329.8 202.72,330.02 203.17,330.23 203.62,330.44 204.07,330.63 204.52,330.82 204.97,331 205.42,331.18 205.87,331.35 206.32,331.52 206.77,331.68 207.22,331.84 207.67,331.99 208.12,332.14 208.58,332.3 209.03,332.45 209.48,332.6 209.93,332.75 210.38,332.89 210.83,333.03 211.28,333.16 211.73,333.29 212.18,333.4 212.63,333.51 213.08,333.61 213.53,333.71 213.98,333.8 214.43,333.89 214.88,333.98 215.33,334.07 215.78,334.15 216.23,334.23 216.68,334.3 217.13,334.37 217.58,334.44 218.03,334.51 218.48,334.56 218.93,334.62 219.38,334.67 219.83,334.72 220.28,334.76 220.73,334.81 221.18,334.85 221.63,334.89 222.08,334.93 222.53,334.97 222.98,335.01 223.43,335.05 223.88,335.08 224.33,335.12 224.78,335.15 225.23,335.18 225.68,335.21 226.13,335.24 226.58,335.26 227.03,335.29 227.48,335.31 227.93,335.33 228.38,335.35 228.83,335.37 229.28,335.39 229.73,335.41 230.18,335.43 230.63,335.45 231.09,335.47 231.54,335.49 231.99,335.5 232.44,335.52 232.89,335.54 233.34,335.55 233.79,335.57 234.24,335.59 234.69,335.6 235.14,335.62 235.59,335.63 236.04,335.64 236.49,335.66 236.94,335.67 237.39,335.68 237.84,335.69 238.29,335.7 238.74,335.71 239.19,335.72 239.64,335.73 240.09,335.74 240.54,335.75 240.99,335.75 241.44,335.76 241.89,335.76 242.34,335.77 242.79,335.77 243.24,335.78 243.69,335.78 244.14,335.79 244.59,335.79 245.04,335.8 245.49,335.8 245.94,335.8 246.39,335.81 246.84,335.81 247.29,335.82 247.74,335.82 248.19,335.82 248.64,335.83 249.09,335.83 249.54,335.84 249.99,335.84 250.44,335.84 250.89,335.85 251.34,335.85 251.79,335.85 252.24,335.86 252.69,335.86 253.14,335.86 253.6,335.86 254.05,335.87 254.5,335.87 254.95,335.87 255.4,335.88 255.85,335.88 256.3,335.88 256.75,335.88 257.2,335.88 257.65,335.89 258.1,335.89 258.55,335.89 259,335.89 259.45,335.89 259.9,335.89 260.35,335.89 260.8,335.9 261.25,335.9 261.7,335.9 262.15,335.9 262.6,335.9 263.05,335.9 263.5,335.9 263.95,335.9 264.4,335.9" fill="none" stroke="#5b9bd5" stroke-width="0.9" stroke-linejoin="round" stroke-opacity="0.75"/>
<polyline points="39.3,178.81 39.75,178.81 40.2,178.81 40.65,178.81 41.1,178.81 41.55,178.81 42,178.81 42.45,178.81 42.9,178.81 43.35,178.81 43.8,178.81 44.25,178.81 44.7,178.81 45.15,188.31 45.6,198.67 46.05,207.67 46.5,215.63 46.95,222.76 47.4,229.16 47.85,234.95 48.3,240.27 48.75,245.17 49.2,249.51 49.65,253.15 50.1,256.25 50.55,258.9 51.01,260.87 51.46,262.35 51.91,263.59 52.36,264.46 52.81,264.92 53.26,265.26 53.71,265.52 54.16,265.71 54.61,265.79 55.06,265.78 55.51,265.69 55.96,265.54 56.41,265.35 56.86,265.14 57.31,264.91 57.76,264.69 58.21,264.49 58.66,264.27 59.11,264 59.56,263.71 60.01,263.4 60.46,263.09 60.91,262.81 61.36,262.56 61.81,262.37 62.26,262.24 62.71,262.19 63.16,262.24 63.61,262.37 64.06,262.57 64.51,262.83 64.96,263.13 65.41,263.47 65.86,263.82 66.31,264.19 66.76,264.56 67.21,264.92 67.66,265.31 68.11,265.75 68.56,266.25 69.01,266.78 69.46,267.32 69.91,267.87 70.36,268.41 70.81,268.91 71.26,269.38 71.71,269.85 72.16,270.31 72.61,270.74 73.06,271.15 73.52,271.53 73.97,271.87 74.42,272.19 74.87,272.48 75.32,272.76 75.77,273.04 76.22,273.31 76.67,273.57 77.12,273.78 77.57,273.92 78.02,273.99 78.47,273.97 78.92,273.9 79.37,273.81 79.82,273.7 80.27,273.57 80.72,273.41 81.17,273.21 81.62,272.95 82.07,272.62 82.52,272.22 82.97,271.77 83.42,271.29 83.87,270.81 84.32,270.34 84.77,269.84 85.22,269.27 85.67,268.69 86.12,268.16 86.57,267.74 87.02,267.43 87.47,267.23 87.92,267.22 88.37,267.42 88.82,267.85 89.27,268.49 89.72,269.28 90.17,270.15 90.62,271.19 91.07,272.49 91.52,274.1 91.97,275.91 92.42,277.92 92.87,280.01 93.32,282.1 93.77,284.06 94.22,286.01 94.67,288.04 95.12,290.08 95.57,292.07 96.03,293.95 96.48,295.66 96.93,297.2 97.38,298.65 97.83,300.02 98.28,301.32 98.73,302.57 99.18,303.77 99.63,304.94 100.08,306.07 100.53,307.12 100.98,308.08 101.43,308.94 101.88,309.74 102.33,310.49 102.78,311.18 103.23,311.81 103.68,312.37 104.13,312.9 104.58,313.39 105.03,313.85 105.48,314.29 105.93,314.7 106.38,315.08 106.83,315.4 107.28,315.7 107.73,315.98 108.18,316.25 108.63,316.5 109.08,316.73 109.53,316.93 109.98,317.12 110.43,317.28 110.88,317.42 111.33,317.56 111.78,317.69 112.23,317.81 112.68,317.92 113.13,318.02 113.58,318.11 114.03,318.2 114.48,318.27 114.93,318.34 115.38,318.4 115.83,318.45 116.28,318.51 116.73,318.56 117.18,318.59 117.63,318.62 118.08,318.64 118.54,318.64 118.99,318.62 119.44,318.58 119.89,318.53 120.34,318.47 120.79,318.4 121.24,318.32 121.69,318.22 122.14,318.11 122.59,317.99 123.04,317.88 123.49,317.75 123.94,317.6 124.39,317.43 124.84,317.25 125.29,317.06 125.74,316.87 126.19,316.67 126.64,316.48 127.09,316.29 127.54,316.08 127.99,315.86 128.44,315.62 128.89,315.35 129.34,315.06 129.79,314.73 130.24,314.36 130.69,313.96 131.14,313.53 131.59,313.1 132.04,312.65 132.49,312.21 132.94,311.78 133.39,311.36 133.84,310.94 134.29,310.52 134.74,310.11 135.19,309.69 135.64,309.26 136.09,308.84 136.54,308.41 136.99,307.99 137.44,307.56 137.89,307.14 138.34,306.72 138.79,306.3 139.24,305.87 139.69,305.45 140.14,305.03 140.59,304.6 141.05,304.18 141.5,303.77 141.95,303.35 142.4,302.95 142.85,302.54 143.3,302.15 143.75,301.76 144.2,301.38 144.65,301.02 145.1,300.65 145.55,300.29 146,299.93 146.45,299.57 146.9,299.22 147.35,298.88 147.8,298.55 148.25,298.22 148.7,297.9 149.15,297.58 149.6,297.27 150.05,296.97 150.5,296.67 150.95,296.39 151.4,296.11 151.85,295.83 152.3,295.57 152.75,295.31 153.2,295.06 153.65,294.83 154.1,294.61 154.55,294.4 155,294.19 155.45,293.99 155.9,293.79 156.35,293.62 156.8,293.45 157.25,293.29 157.7,293.15 158.15,293.02 158.6,292.9 159.05,292.81 159.5,292.74 159.95,292.69 160.4,292.65 160.85,292.62 161.3,292.61 161.75,292.61 162.2,292.65 162.65,292.72 163.1,292.84 163.56,292.98 164.01,293.15 164.46,293.34 164.91,293.54 165.36,293.75 165.81,293.96 166.26,294.18 166.71,294.41 167.16,294.64 167.61,294.88 168.06,295.13 168.51,295.4 168.96,295.67 169.41,295.96 169.86,296.25 170.31,296.55 170.76,296.85 171.21,297.16 171.66,297.48 172.11,297.82 172.56,298.16 173.01,298.53 173.46,298.91 173.91,299.3 174.36,299.71 174.81,300.13 175.26,300.56 175.71,301.01 176.16,301.47 176.61,301.94 177.06,302.43 177.51,302.96 177.96,303.51 178.41,304.08 178.86,304.66 179.31,305.26 179.76,305.87 180.21,306.47 180.66,307.08 181.11,307.67 181.56,308.26 182.01,308.86 182.46,309.45 182.91,310.05 183.36,310.64 183.81,311.22 184.26,311.81 184.71,312.38 185.16,312.96 185.61,313.52 186.07,314.08 186.52,314.63 186.97,315.18 187.42,315.72 187.87,316.25 188.32,316.78 188.77,317.3 189.22,317.81 189.67,318.31 190.12,318.8 190.57,319.28 191.02,319.74 191.47,320.2 191.92,320.64 192.37,321.08 192.82,321.51 193.27,321.93 193.72,322.35 194.17,322.77 194.62,323.18 195.07,323.59 195.52,324 195.97,324.4 196.42,324.79 196.87,325.18 197.32,325.56 197.77,325.92 198.22,326.28 198.67,326.62 199.12,326.94 199.57,327.26 200.02,327.57 200.47,327.87 200.92,328.17 201.37,328.45 201.82,328.73 202.27,329 202.72,329.25 203.17,329.5 203.62,329.74 204.07,329.96 204.52,330.17 204.97,330.38 205.42,330.57 205.87,330.76 206.32,330.94 206.77,331.11 207.22,331.28 207.67,331.45 208.12,331.61 208.58,331.77 209.03,331.93 209.48,332.09 209.93,332.24 210.38,332.4 210.83,332.55 211.28,332.69 211.73,332.83 212.18,332.96 212.63,333.09 213.08,333.2 213.53,333.31 213.98,333.42 214.43,333.53 214.88,333.63 215.33,333.73 215.78,333.83 216.23,333.92 216.68,334.01 217.13,334.09 217.58,334.17 218.03,334.25 218.48,334.32 218.93,334.39 219.38,334.45 219.83,334.51 220.28,334.57 220.73,334.63 221.18,334.68 221.63,334.73 222.08,334.79 222.53,334.84 222.98,334.89 223.43,334.93 223.88,334.98 224.33,335.02 224.78,335.06 225.23,335.1 225.68,335.13 226.13,335.17 226.58,335.2 227.03,335.23 227.48,335.26 227.93,335.28 228.38,335.31 228.83,335.33 229.28,335.35 229.73,335.38 230.18,335.4 230.63,335.42 231.09,335.44 231.54,335.46 231.99,335.48 232.44,335.5 232.89,335.52 233.34,335.54 233.79,335.56 234.24,335.57 234.69,335.59 235.14,335.6 235.59,335.62 236.04,335.63 236.49,335.65 236.94,335.66 237.39,335.67 237.84,335.68 238.29,335.7 238.74,335.71 239.19,335.72 239.64,335.73 240.09,335.73 240.54,335.74 240.99,335.75 241.44,335.76 241.89,335.76 242.34,335.77 242.79,335.77 243.24,335.78 243.69,335.79 244.14,335.79 244.59,335.8 245.04,335.8 245.49,335.8 245.94,335.81 246.39,335.81 246.84,335.82 247.29,335.82 247.74,335.82 248.19,335.83 248.64,335.83 249.09,335.84 249.54,335.84 249.99,335.84 250.44,335.85 250.89,335.85 251.34,335.85 251.79,335.86 252.24,335.86 252.69,335.86 253.14,335.86 253.6,335.87 254.05,335.87 254.5,335.87 254.95,335.87 255.4,335.88 255.85,335.88 256.3,335.88 256.75,335.88 257.2,335.88 257.65,335.89 258.1,335.89 258.55,335.89 259,335.89 259.45,335.89 259.9,335.89 260.35,335.89 260.8,335.9 261.25,335.9 261.7,335.9 262.15,335.9 262.6,335.9 263.05,335.9 263.5,335.9 263.95,335.9 264.4,335.9" fill="none" stroke="#ed7d31" stroke-width="0.9" stroke-linejoin="round" stroke-opacity="0.75"/>
<polyline points="39.3,178.81 39.75,178.81 40.2,178.81 40.65,178.81 41.1,178.81 41.55,178.81 42,178.81 42.45,178.81 42.9,178.81 43.35,178.81 43.8,178.81 44.25,178.81 44.7,179.26 45.15,191.18 45.6,201.6 46.05,210.64 46.5,218.64 46.95,225.77 47.4,232.15 47.85,237.9 48.3,243.16 48.75,247.97 49.2,252.22 49.65,255.78 50.1,258.81 50.55,261.41 51.01,263.33 51.46,264.77 51.91,265.98 52.36,266.84 52.81,267.3 53.26,267.63 53.71,267.9 54.16,268.09 54.61,268.18 55.06,268.18 55.51,268.1 55.96,267.97 56.41,267.8 56.86,267.61 57.31,267.41 57.76,267.2 58.21,267.02 58.66,266.81 59.11,266.57 59.56,266.29 60.01,266.01 60.46,265.72 60.91,265.46 61.36,265.23 61.81,265.04 62.26,264.92 62.71,264.88 63.16,264.92 63.61,265.04 64.06,265.23 64.51,265.47 64.96,265.75 65.41,266.05 65.86,266.38 66.31,266.71 66.76,267.04 67.21,267.36 67.66,267.7 68.11,268.09 68.56,268.52 69.01,268.97 69.46,269.44 69.91,269.92 70.36,270.39 70.81,270.83 71.26,271.24 71.71,271.65 72.16,272.04 72.61,272.4 73.06,272.74 73.52,273.03 73.97,273.3 74.42,273.53 74.87,273.72 75.32,273.91 75.77,274.09 76.22,274.27 76.67,274.42 77.12,274.53 77.57,274.57 78.02,274.54 78.47,274.41 78.92,274.23 79.37,274.04 79.82,273.83 80.27,273.59 80.72,273.33 81.17,273.02 81.62,272.66 82.07,272.23 82.52,271.74 82.97,271.19 83.42,270.62 83.87,270.05 84.32,269.5 84.77,268.9 85.22,268.23 85.67,267.57 86.12,266.96 86.57,266.48 87.02,266.13 87.47,265.89 87.92,265.84 88.37,266 88.82,266.44 89.27,267.12 89.72,267.96 90.17,268.89 90.62,270.04 91.07,271.47 91.52,273.21 91.97,275.13 92.42,277.25 92.87,279.47 93.32,281.66 93.77,283.72 94.22,285.75 94.67,287.85 95.12,289.95 95.57,291.99 96.03,293.92 96.48,295.68 96.93,297.28 97.38,298.78 97.83,300.21 98.28,301.56 98.73,302.86 99.18,304.11 99.63,305.33 100.08,306.51 100.53,307.62 100.98,308.63 101.43,309.54 101.88,310.38 102.33,311.17 102.78,311.9 103.23,312.55 103.68,313.12 104.13,313.65 104.58,314.15 105.03,314.61 105.48,315.06 105.93,315.47 106.38,315.84 106.83,316.17 107.28,316.47 107.73,316.75 108.18,317.01 108.63,317.26 109.08,317.48 109.53,317.69 109.98,317.87 110.43,318.04 110.88,318.19 111.33,318.34 111.78,318.47 112.23,318.6 112.68,318.72 113.13,318.83 113.58,318.93 114.03,319.03 114.48,319.12 114.93,319.21 115.38,319.29 115.83,319.36 116.28,319.44 116.73,319.5 117.18,319.56 117.63,319.61 118.08,319.65 118.54,319.67 118.99,319.66 119.44,319.63 119.89,319.58 120.34,319.52 120.79,319.45 121.24,319.35 121.69,319.22 122.14,319.07 122.59,318.9 123.04,318.73 123.49,318.55 123.94,318.34 124.39,318.12 124.84,317.88 125.29,317.63 125.74,317.37 126.19,317.12 126.64,316.87 127.09,316.62 127.54,316.36 127.99,316.08 128.44,315.77 128.89,315.43 129.34,315.06 129.79,314.63 130.24,314.17 130.69,313.66 131.14,313.12 131.59,312.57 132.04,312 132.49,311.41 132.94,310.82 133.39,310.22 133.84,309.61 134.29,309.01 134.74,308.39 135.19,307.76 135.64,307.12 136.09,306.47 136.54,305.81 136.99,305.16 137.44,304.51 137.89,303.87 138.34,303.22 138.79,302.57 139.24,301.9 139.69,301.23 140.14,300.56 140.59,299.9 141.05,299.23 141.5,298.58 141.95,297.94 142.4,297.31 142.85,296.71 143.3,296.12 143.75,295.56 144.2,295.03 144.65,294.52 145.1,294.02 145.55,293.52 146,293.04 146.45,292.56 146.9,292.09 147.35,291.64 147.8,291.2 148.25,290.78 148.7,290.36 149.15,289.96 149.6,289.58 150.05,289.21 150.5,288.85 150.95,288.52 151.4,288.19 151.85,287.87 152.3,287.56 152.75,287.26 153.2,286.97 153.65,286.7 154.1,286.44 154.55,286.2 155,285.98 155.45,285.76 155.9,285.57 156.35,285.41 156.8,285.25 157.25,285.11 157.7,284.98 158.15,284.86 158.6,284.75 159.05,284.66 159.5,284.6 159.95,284.55 160.4,284.52 160.85,284.49 161.3,284.48 161.75,284.5 162.2,284.55 162.65,284.64 163.1,284.76 163.56,284.91 164.01,285.08 164.46,285.27 164.91,285.47 165.36,285.68 165.81,285.9 166.26,286.14 166.71,286.4 167.16,286.67 167.61,286.96 168.06,287.27 168.51,287.6 168.96,287.94 169.41,288.29 169.86,288.65 170.31,289.01 170.76,289.38 171.21,289.76 171.66,290.14 172.11,290.55 172.56,290.96 173.01,291.4 173.46,291.85 173.91,292.32 174.36,292.8 174.81,293.3 175.26,293.81 175.71,294.34 176.16,294.88 176.61,295.44 177.06,296.02 177.51,296.63 177.96,297.28 178.41,297.95 178.86,298.64 179.31,299.34 179.76,300.05 180.21,300.77 180.66,301.49 181.11,302.21 181.56,302.92 182.01,303.64 182.46,304.35 182.91,305.05 183.36,305.75 183.81,306.45 184.26,307.14 184.71,307.84 185.16,308.53 185.61,309.22 186.07,309.91 186.52,310.59 186.97,311.27 187.42,311.94 187.87,312.61 188.32,313.27 188.77,313.92 189.22,314.55 189.67,315.18 190.12,315.79 190.57,316.39 191.02,316.97 191.47,317.54 191.92,318.09 192.37,318.62 192.82,319.16 193.27,319.68 193.72,320.2 194.17,320.72 194.62,321.23 195.07,321.73 195.52,322.22 195.97,322.71 196.42,323.19 196.87,323.65 197.32,324.1 197.77,324.54 198.22,324.96 198.67,325.36 199.12,325.74 199.57,326.11 200.02,326.47 200.47,326.82 200.92,327.16 201.37,327.49 201.82,327.82 202.27,328.12 202.72,328.42 203.17,328.7 203.62,328.97 204.07,329.23 204.52,329.47 204.97,329.69 205.42,329.91 205.87,330.11 206.32,330.31 206.77,330.5 207.22,330.68 207.67,330.85 208.12,331.02 208.58,331.19 209.03,331.36 209.48,331.53 209.93,331.69 210.38,331.86 210.83,332.02 211.28,332.18 211.73,332.34 212.18,332.48 212.63,332.62 213.08,332.76 213.53,332.89 213.98,333.01 214.43,333.13 214.88,333.25 215.33,333.37 215.78,333.48 216.23,333.58 216.68,333.68 217.13,333.78 217.58,333.88 218.03,333.97 218.48,334.05 218.93,334.13 219.38,334.21 219.83,334.28 220.28,334.35 220.73,334.42 221.18,334.49 221.63,334.56 222.08,334.63 222.53,334.69 222.98,334.75 223.43,334.81 223.88,334.86 224.33,334.92 224.78,334.97 225.23,335.01 225.68,335.05 226.13,335.09 226.58,335.13 227.03,335.16 227.48,335.2 227.93,335.23 228.38,335.26 228.83,335.29 229.28,335.31 229.73,335.34 230.18,335.37 230.63,335.39 231.09,335.42 231.54,335.44 231.99,335.46 232.44,335.48 232.89,335.5 233.34,335.52 233.79,335.54 234.24,335.56 234.69,335.58 235.14,335.59 235.59,335.61 236.04,335.62 236.49,335.64 236.94,335.65 237.39,335.66 237.84,335.68 238.29,335.69 238.74,335.7 239.19,335.71 239.64,335.72 240.09,335.73 240.54,335.74 240.99,335.75 241.44,335.76 241.89,335.76 242.34,335.77 242.79,335.78 243.24,335.78 243.69,335.79 244.14,335.79 244.59,335.8 245.04,335.8 245.49,335.81 245.94,335.81 246.39,335.82 246.84,335.82 247.29,335.83 247.74,335.83 248.19,335.83 248.64,335.84 249.09,335.84 249.54,335.84 249.99,335.85 250.44,335.85 250.89,335.85 251.34,335.85 251.79,335.86 252.24,335.86 252.69,335.86 253.14,335.87 253.6,335.87 254.05,335.87 254.5,335.87 254.95,335.88 255.4,335.88 255.85,335.88 256.3,335.88 256.75,335.88 257.2,335.89 257.65,335.89 258.1,335.89 258.55,335.89 259,335.89 259.45,335.89 259.9,335.89 260.35,335.9 260.8,335.9 261.25,335.9 261.7,335.9 262.15,335.9 262.6,335.9 263.05,335.9 263.5,335.9 263.95,335.9 264.4,335.9" fill="none" stroke="#a5a5a5" stroke-width="0.9" stroke-linejoin="round" stroke-opacity="0.75"/>
<polyline points="39.3,178.81 39.75,178.81 40.2,178.81 40.65,178.81 41.1,178.81 41.55,178.81 42,178.81 42.45,178.81 42.9,178.81 43.35,178.81 43.8,178.81 44.25,179.12 44.7,192.76 45.15,205.02 45.6,215.72 46.05,224.94 46.5,233.11 46.95,240.26 47.4,246.55 47.85,252.14 48.3,257.09 48.75,261.45 49.2,265.27 49.65,268.45 50.1,271.16 50.55,273.48 51.01,275.19 51.46,276.46 51.91,277.51 52.36,278.29 52.81,278.74 53.26,279.07 53.71,279.35 54.16,279.55 54.61,279.68 55.06,279.74 55.51,279.73 55.96,279.69 56.41,279.61 56.86,279.52 57.31,279.41 57.76,279.31 58.21,279.21 58.66,279.09 59.11,278.94 59.56,278.76 60.01,278.57 60.46,278.38 60.91,278.2 61.36,278.05 61.81,277.93 62.26,277.85 62.71,277.82 63.16,277.85 63.61,277.93 64.06,278.05 64.51,278.2 64.96,278.36 65.41,278.52 65.86,278.68 66.31,278.84 66.76,278.99 67.21,279.13 67.66,279.25 68.11,279.35 68.56,279.45 69.01,279.55 69.46,279.66 69.91,279.8 70.36,279.95 70.81,280.08 71.26,280.2 71.71,280.3 72.16,280.38 72.61,280.41 73.06,280.39 73.52,280.3 73.97,280.16 74.42,279.97 74.87,279.73 75.32,279.46 75.77,279.18 76.22,278.87 76.67,278.55 77.12,278.17 77.57,277.71 78.02,277.17 78.47,276.55 78.92,275.87 79.37,275.16 79.82,274.44 80.27,273.71 80.72,272.95 81.17,272.15 81.62,271.29 82.07,270.38 82.52,269.42 82.97,268.42 83.42,267.41 83.87,266.41 84.32,265.42 84.77,264.38 85.22,263.26 85.67,262.15 86.12,261.18 86.57,260.44 87.02,259.88 87.47,259.43 87.92,259.18 88.37,259.21 88.82,259.66 89.27,260.51 89.72,261.6 90.17,262.84 90.62,264.5 91.07,266.57 91.52,268.92 91.97,271.36 92.42,274.04 92.87,276.84 93.32,279.56 93.77,282.08 94.22,284.51 94.67,286.93 95.12,289.31 95.57,291.6 96.03,293.76 96.48,295.77 96.93,297.63 97.38,299.4 97.83,301.09 98.28,302.71 98.73,304.25 99.18,305.75 99.63,307.2 100.08,308.63 100.53,309.99 100.98,311.26 101.43,312.41 101.88,313.44 102.33,314.41 102.78,315.29 103.23,316.02 103.68,316.63 104.13,317.17 104.58,317.66 105.03,318.12 105.48,318.55 105.93,318.95 106.38,319.3 106.83,319.6 107.28,319.86 107.73,320.1 108.18,320.32 108.63,320.52 109.08,320.69 109.53,320.84 109.98,320.97 110.43,321.09 110.88,321.19 111.33,321.29 111.78,321.37 112.23,321.45 112.68,321.51 113.13,321.57 113.58,321.62 114.03,321.66 114.48,321.69 114.93,321.72 115.38,321.74 115.83,321.75 116.28,321.75 116.73,321.74 117.18,321.72 117.63,321.69 118.08,321.65 118.54,321.58 118.99,321.49 119.44,321.37 119.89,321.23 120.34,321.07 120.79,320.9 121.24,320.7 121.69,320.45 122.14,320.18 122.59,319.91 123.04,319.63 123.49,319.35 123.94,319.06 124.39,318.75 124.84,318.43 125.29,318.11 125.74,317.79 126.19,317.47 126.64,317.17 127.09,316.87 127.54,316.56 127.99,316.23 128.44,315.88 128.89,315.48 129.34,315.05 129.79,314.57 130.24,314.04 130.69,313.46 131.14,312.86 131.59,312.24 132.04,311.59 132.49,310.91 132.94,310.22 133.39,309.52 133.84,308.8 134.29,308.09 134.74,307.35 135.19,306.6 135.64,305.83 136.09,305.05 136.54,304.27 136.99,303.48 137.44,302.7 137.89,301.93 138.34,301.15 138.79,300.36 139.24,299.56 139.69,298.75 140.14,297.94 140.59,297.13 141.05,296.33 141.5,295.54 141.95,294.77 142.4,294.02 142.85,293.29 143.3,292.59 143.75,291.93 144.2,291.32 144.65,290.73 145.1,290.14 145.55,289.57 146,289.01 146.45,288.46 146.9,287.93 147.35,287.41 147.8,286.91 148.25,286.43 148.7,285.96 149.15,285.51 149.6,285.08 150.05,284.67 150.5,284.29 150.95,283.92 151.4,283.57 151.85,283.22 152.3,282.89 152.75,282.56 153.2,282.25 153.65,281.95 154.1,281.68 154.55,281.42 155,281.19 155.45,280.97 155.9,280.78 156.35,280.61 156.8,280.47 157.25,280.34 157.7,280.21 158.15,280.1 158.6,280 159.05,279.91 159.5,279.85 159.95,279.8 160.4,279.77 160.85,279.75 161.3,279.74 161.75,279.77 162.2,279.83 162.65,279.92 163.1,280.05 163.56,280.2 164.01,280.37 164.46,280.56 164.91,280.76 165.36,280.97 165.81,281.19 166.26,281.45 166.71,281.72 167.16,282.02 167.61,282.35 168.06,282.69 168.51,283.06 168.96,283.43 169.41,283.82 169.86,284.22 170.31,284.62 170.76,285.03 171.21,285.44 171.66,285.86 172.11,286.3 172.56,286.76 173.01,287.24 173.46,287.73 173.91,288.25 174.36,288.77 174.81,289.32 175.26,289.88 175.71,290.45 176.16,291.04 176.61,291.65 177.06,292.28 177.51,292.94 177.96,293.64 178.41,294.37 178.86,295.12 179.31,295.89 179.76,296.66 180.21,297.45 180.66,298.24 181.11,299.02 181.56,299.81 182.01,300.59 182.46,301.37 182.91,302.14 183.36,302.9 183.81,303.66 184.26,304.42 184.71,305.19 185.16,305.95 185.61,306.72 186.07,307.48 186.52,308.24 186.97,308.99 187.42,309.74 187.87,310.48 188.32,311.22 188.77,311.94 189.22,312.65 189.67,313.35 190.12,314.04 190.57,314.7 191.02,315.35 191.47,315.98 191.92,316.59 192.37,317.19 192.82,317.78 193.27,318.37 193.72,318.95 194.17,319.52 194.62,320.09 195.07,320.64 195.52,321.19 195.97,321.73 196.42,322.25 196.87,322.76 197.32,323.26 197.77,323.73 198.22,324.19 198.67,324.63 199.12,325.04 199.57,325.44 200.02,325.83 200.47,326.21 200.92,326.58 201.37,326.94 201.82,327.28 202.27,327.61 202.72,327.93 203.17,328.24 203.62,328.53 204.07,328.8 204.52,329.05 204.97,329.3 205.42,329.52 205.87,329.74 206.32,329.94 206.77,330.14 207.22,330.32 207.67,330.5 208.12,330.68 208.58,330.85 209.03,331.03 209.48,331.2 209.93,331.37 210.38,331.55 210.83,331.72 211.28,331.89 211.73,332.05 212.18,332.2 212.63,332.35 213.08,332.5 213.53,332.64 213.98,332.77 214.43,332.9 214.88,333.03 215.33,333.15 215.78,333.27 216.23,333.39 216.68,333.5 217.13,333.6 217.58,333.71 218.03,333.8 218.48,333.9 218.93,333.99 219.38,334.07 219.83,334.15 220.28,334.23 220.73,334.31 221.18,334.38 221.63,334.46 222.08,334.53 222.53,334.6 222.98,334.67 223.43,334.74 223.88,334.8 224.33,334.86 224.78,334.91 225.23,334.96 225.68,335.01 226.13,335.05 226.58,335.09 227.03,335.13 227.48,335.16 227.93,335.19 228.38,335.23 228.83,335.26 229.28,335.29 229.73,335.32 230.18,335.35 230.63,335.37 231.09,335.4 231.54,335.42 231.99,335.45 232.44,335.47 232.89,335.49 233.34,335.51 233.79,335.53 234.24,335.55 234.69,335.57 235.14,335.59 235.59,335.6 236.04,335.62 236.49,335.63 236.94,335.65 237.39,335.66 237.84,335.67 238.29,335.68 238.74,335.7 239.19,335.71 239.64,335.72 240.09,335.73 240.54,335.74 240.99,335.75 241.44,335.76 241.89,335.76 242.34,335.77 242.79,335.78 243.24,335.78 243.69,335.79 244.14,335.8 244.59,335.8 245.04,335.81 245.49,335.81 245.94,335.82 246.39,335.82 246.84,335.82 247.29,335.83 247.74,335.83 248.19,335.83 248.64,335.84 249.09,335.84 249.54,335.84 249.99,335.85 250.44,335.85 250.89,335.85 251.34,335.86 251.79,335.86 252.24,335.86 252.69,335.86 253.14,335.87 253.6,335.87 254.05,335.87 254.5,335.87 254.95,335.88 255.4,335.88 255.85,335.88 256.3,335.88 256.75,335.88 257.2,335.89 257.65,335.89 258.1,335.89 258.55,335.89 259,335.89 259.45,335.89 259.9,335.89 260.35,335.9 260.8,335.9 261.25,335.9 261.7,335.9 262.15,335.9 262.6,335.9 263.05,335.9 263.5,335.9 263.95,335.9 264.4,335.9" fill="none" stroke="#ffc000" stroke-width="0.9" stroke-linejoin="round" stroke-opacity="0.75"/>
<polyline points="39.3,178.81 39.75,178.81 40.2,178.81 40.65,178.81 41.1,178.81 41.55,178.81 42,178.81 42.45,178.81 42.9,178.81 43.35,178.81 43.8,178.81 44.25,189.6 44.7,203.21 45.15,215.73 45.6,226.65 46.05,236.01 46.5,244.31 46.95,251.47 47.4,257.68 47.85,263.16 48.3,267.86 48.75,271.89 49.2,275.37 49.65,278.25 50.1,280.71 50.55,282.81 51.01,284.36 51.46,285.49 51.91,286.44 52.36,287.15 52.81,287.59 53.26,287.92 53.71,288.2 54.16,288.42 54.61,288.58 55.06,288.68 55.51,288.73 55.96,288.75 56.41,288.75 56.86,288.73 57.31,288.7 57.76,288.67 58.21,288.64 58.66,288.59 59.11,288.51 59.56,288.4 60.01,288.29 60.46,288.17 60.91,288.06 61.36,287.97 61.81,287.9 62.26,287.85 62.71,287.83 63.16,287.85 63.61,287.9 64.06,287.97 64.51,288.05 64.96,288.12 65.41,288.17 65.86,288.2 66.31,288.22 66.76,288.23 67.21,288.23 67.66,288.18 68.11,288.06 68.56,287.91 69.01,287.73 69.46,287.57 69.91,287.44 70.36,287.34 70.81,287.24 71.26,287.13 71.71,287 72.16,286.84 72.61,286.61 73.06,286.31 73.52,285.93 73.97,285.47 74.42,284.95 74.87,284.38 75.32,283.76 75.77,283.11 76.22,282.44 76.67,281.74 77.12,280.99 77.57,280.14 78.02,279.21 78.47,278.2 78.92,277.13 79.37,276.03 79.82,274.92 80.27,273.79 80.72,272.66 81.17,271.47 81.62,270.24 82.07,268.95 82.52,267.63 82.97,266.28 83.42,264.93 83.87,263.59 84.32,262.27 84.77,260.89 85.22,259.41 85.67,257.97 86.12,256.71 86.57,255.77 87.02,255.05 87.47,254.43 87.92,254.03 88.37,253.95 88.82,254.41 89.27,255.39 89.72,256.68 90.17,258.15 90.62,260.22 91.07,262.78 91.52,265.59 91.97,268.44 92.42,271.56 92.87,274.8 93.32,277.94 93.77,280.81 94.22,283.55 94.67,286.23 95.12,288.82 95.57,291.3 96.03,293.64 96.48,295.84 96.93,297.91 97.38,299.88 97.83,301.78 98.28,303.59 98.73,305.33 99.18,307.01 99.63,308.65 100.08,310.27 100.53,311.83 100.98,313.3 101.43,314.63 101.88,315.82 102.33,316.92 102.78,317.91 103.23,318.72 103.68,319.36 104.13,319.91 104.58,320.4 105.03,320.85 105.48,321.27 105.93,321.67 106.38,322.01 106.83,322.29 107.28,322.52 107.73,322.73 108.18,322.92 108.63,323.09 109.08,323.22 109.53,323.33 109.98,323.43 110.43,323.52 110.88,323.6 111.33,323.67 111.78,323.73 112.23,323.77 112.68,323.8 113.13,323.83 113.58,323.85 114.03,323.86 114.48,323.87 114.93,323.87 115.38,323.86 115.83,323.84 116.28,323.81 116.73,323.76 117.18,323.7 117.63,323.63 118.08,323.55 118.54,323.44 118.99,323.3 119.44,323.12 119.89,322.92 120.34,322.7 120.79,322.46 121.24,322.18 121.69,321.85 122.14,321.48 122.59,321.1 123.04,320.72 123.49,320.35 123.94,319.96 124.39,319.57 124.84,319.16 125.29,318.76 125.74,318.36 126.19,317.97 126.64,317.6 127.09,317.23 127.54,316.86 127.99,316.46 128.44,316.04 128.89,315.57 129.34,315.04 129.79,314.47 130.24,313.83 130.69,313.16 131.14,312.45 131.59,311.71 132.04,310.94 132.49,310.12 132.94,309.26 133.39,308.38 133.84,307.49 134.29,306.58 134.74,305.66 135.19,304.7 135.64,303.72 136.09,302.72 136.54,301.71 136.99,300.71 137.44,299.7 137.89,298.72 138.34,297.72 138.79,296.71 139.24,295.67 139.69,294.62 140.14,293.57 140.59,292.53 141.05,291.49 141.5,290.47 141.95,289.48 142.4,288.52 142.85,287.59 143.3,286.71 143.75,285.88 144.2,285.12 144.65,284.39 145.1,283.67 145.55,282.97 146,282.29 146.45,281.62 146.9,280.98 147.35,280.35 147.8,279.75 148.25,279.17 148.7,278.61 149.15,278.08 149.6,277.58 150.05,277.1 150.5,276.66 150.95,276.25 151.4,275.85 151.85,275.46 152.3,275.08 152.75,274.71 153.2,274.36 153.65,274.03 154.1,273.72 154.55,273.43 155,273.18 155.45,272.95 155.9,272.76 156.35,272.61 156.8,272.48 157.25,272.36 157.7,272.24 158.15,272.14 158.6,272.05 159.05,271.97 159.5,271.91 159.95,271.86 160.4,271.83 160.85,271.82 161.3,271.82 161.75,271.86 162.2,271.93 162.65,272.04 163.1,272.17 163.56,272.33 164.01,272.5 164.46,272.69 164.91,272.89 165.36,273.1 165.81,273.33 166.26,273.6 166.71,273.91 167.16,274.26 167.61,274.63 168.06,275.03 168.51,275.46 168.96,275.9 169.41,276.35 169.86,276.81 170.31,277.28 170.76,277.74 171.21,278.22 171.66,278.71 172.11,279.21 172.56,279.74 173.01,280.29 173.46,280.85 173.91,281.44 174.36,282.04 174.81,282.66 175.26,283.3 175.71,283.95 176.16,284.62 176.61,285.31 177.06,286.02 177.51,286.78 177.96,287.57 178.41,288.39 178.86,289.24 179.31,290.11 179.76,291 180.21,291.89 180.66,292.79 181.11,293.7 181.56,294.6 182.01,295.5 182.46,296.39 182.91,297.27 183.36,298.14 183.81,299 184.26,299.88 184.71,300.76 185.16,301.64 185.61,302.53 186.07,303.41 186.52,304.3 186.97,305.18 187.42,306.06 187.87,306.93 188.32,307.79 188.77,308.64 189.22,309.48 189.67,310.3 190.12,311.1 190.57,311.89 191.02,312.65 191.47,313.39 191.92,314.1 192.37,314.8 192.82,315.49 193.27,316.18 193.72,316.86 194.17,317.52 194.62,318.18 195.07,318.83 195.52,319.46 195.97,320.08 196.42,320.69 196.87,321.27 197.32,321.84 197.77,322.39 198.22,322.91 198.67,323.4 199.12,323.87 199.57,324.32 200.02,324.76 200.47,325.19 200.92,325.6 201.37,326 201.82,326.39 202.27,326.76 202.72,327.12 203.17,327.46 203.62,327.78 204.07,328.08 204.52,328.37 204.97,328.63 205.42,328.88 205.87,329.11 206.32,329.33 206.77,329.53 207.22,329.73 207.67,329.92 208.12,330.11 208.58,330.29 209.03,330.47 209.48,330.66 209.93,330.84 210.38,331.02 210.83,331.21 211.28,331.39 211.73,331.56 212.18,331.74 212.63,331.9 213.08,332.06 213.53,332.22 213.98,332.37 214.43,332.52 214.88,332.66 215.33,332.8 215.78,332.93 216.23,333.06 216.68,333.18 217.13,333.3 217.58,333.42 218.03,333.53 218.48,333.64 218.93,333.74 219.38,333.84 219.83,333.93 220.28,334.02 220.73,334.11 221.18,334.2 221.63,334.29 222.08,334.38 222.53,334.46 222.98,334.54 223.43,334.61 223.88,334.69 224.33,334.75 224.78,334.82 225.23,334.88 225.68,334.93 226.13,334.98 226.58,335.02 227.03,335.06 227.48,335.1 227.93,335.14 228.38,335.18 228.83,335.21 229.28,335.25 229.73,335.28 230.18,335.31 230.63,335.34 231.09,335.37 231.54,335.4 231.99,335.43 232.44,335.45 232.89,335.48 233.34,335.5 233.79,335.52 234.24,335.54 234.69,335.56 235.14,335.57 235.59,335.59 236.04,335.61 236.49,335.62 236.94,335.64 237.39,335.65 237.84,335.66 238.29,335.68 238.74,335.69 239.19,335.7 239.64,335.71 240.09,335.73 240.54,335.74 240.99,335.75 241.44,335.76 241.89,335.76 242.34,335.77 242.79,335.78 243.24,335.79 243.69,335.79 244.14,335.8 244.59,335.81 245.04,335.81 245.49,335.82 245.94,335.82 246.39,335.83 246.84,335.83 247.29,335.83 247.74,335.84 248.19,335.84 248.64,335.84 249.09,335.84 249.54,335.85 249.99,335.85 250.44,335.85 250.89,335.86 251.34,335.86 251.79,335.86 252.24,335.86 252.69,335.87 253.14,335.87 253.6,335.87 254.05,335.87 254.5,335.88 254.95,335.88 255.4,335.88 255.85,335.88 256.3,335.88 256.75,335.89 257.2,335.89 257.65,335.89 258.1,335.89 258.55,335.89 259,335.89 259.45,335.89 259.9,335.89 260.35,335.9 260.8,335.9 261.25,335.9 261.7,335.9 262.15,335.9 262.6,335.9 263.05,335.9 263.5,335.9 263.95,335.9 264.4,335.9" fill="none" stroke="#4472c4" stroke-width="0.9" stroke-linejoin="round" stroke-opacity="0.75"/>
<polyline points="39.3,178.81 39.75,178.81 40.2,178.81 40.65,178.81 41.1,178.81 41.55,178.81 42,178.81 42.45,178.81 42.9,178.81 43.35,178.81 43.8,178.81 44.25,191.65 44.7,205.24 45.15,217.81 45.6,228.78 46.05,238.17 46.5,246.49 46.95,253.66 47.4,259.86 47.85,265.31 48.3,269.96 48.75,273.92 49.2,277.34 49.65,280.17 50.1,282.58 50.55,284.63 51.01,286.15 51.46,287.26 51.91,288.18 52.36,288.87 52.81,289.32 53.26,289.65 53.71,289.93 54.16,290.15 54.61,290.32 55.06,290.43 55.51,290.49 55.96,290.51 56.41,290.53 56.86,290.53 57.31,290.52 57.76,290.5 58.21,290.48 58.66,290.44 59.11,290.38 59.56,290.29 60.01,290.18 60.46,290.08 60.91,289.99 61.36,289.91 61.81,289.84 62.26,289.8 62.71,289.78 63.16,289.8 63.61,289.84 64.06,289.91 64.51,289.98 64.96,290.02 65.41,290.05 65.86,290.06 66.31,290.05 66.76,290.03 67.21,290 67.66,289.92 68.11,289.76 68.56,289.56 69.01,289.33 69.46,289.11 69.91,288.93 70.36,288.78 70.81,288.63 71.26,288.48 71.71,288.31 72.16,288.1 72.61,287.82 73.06,287.46 73.52,287.02 73.97,286.51 74.42,285.92 74.87,285.28 75.32,284.59 75.77,283.88 76.22,283.13 76.67,282.36 77.12,281.54 77.57,280.61 78.02,279.61 78.47,278.52 78.92,277.38 79.37,276.2 79.82,275.01 80.27,273.81 80.72,272.6 81.17,271.34 81.62,270.03 82.07,268.67 82.52,267.28 82.97,265.86 83.42,264.44 83.87,263.04 84.32,261.66 84.77,260.2 85.22,258.65 85.67,257.15 86.12,255.84 86.57,254.86 87.02,254.11 87.47,253.45 87.92,253.02 88.37,252.92 88.82,253.38 89.27,254.39 89.72,255.72 90.17,257.23 90.62,259.38 91.07,262.04 91.52,264.94 91.97,267.88 92.42,271.08 92.87,274.4 93.32,277.63 93.77,280.56 94.22,283.36 94.67,286.09 95.12,288.72 95.57,291.24 96.03,293.62 96.48,295.85 96.93,297.96 97.38,299.98 97.83,301.91 98.28,303.76 98.73,305.54 99.18,307.26 99.63,308.93 100.08,310.59 100.53,312.19 100.98,313.7 101.43,315.06 101.88,316.28 102.33,317.42 102.78,318.43 103.23,319.24 103.68,319.89 104.13,320.45 104.58,320.94 105.03,321.38 105.48,321.81 105.93,322.2 106.38,322.54 106.83,322.81 107.28,323.04 107.73,323.25 108.18,323.43 108.63,323.59 109.08,323.71 109.53,323.82 109.98,323.92 110.43,324 110.88,324.07 111.33,324.13 111.78,324.18 112.23,324.22 112.68,324.25 113.13,324.27 113.58,324.28 114.03,324.29 114.48,324.29 114.93,324.29 115.38,324.27 115.83,324.25 116.28,324.21 116.73,324.15 117.18,324.09 117.63,324.01 118.08,323.92 118.54,323.81 118.99,323.65 119.44,323.47 119.89,323.26 120.34,323.02 120.79,322.77 121.24,322.47 121.69,322.12 122.14,321.73 122.59,321.33 123.04,320.94 123.49,320.55 123.94,320.14 124.39,319.73 124.84,319.31 125.29,318.88 125.74,318.47 126.19,318.07 126.64,317.68 127.09,317.3 127.54,316.92 127.99,316.51 128.44,316.07 128.89,315.58 129.34,315.04 129.79,314.45 130.24,313.79 130.69,313.1 131.14,312.37 131.59,311.61 132.04,310.81 132.49,309.96 132.94,309.07 133.39,308.16 133.84,307.23 134.29,306.29 134.74,305.32 135.19,304.33 135.64,303.3 136.09,302.26 136.54,301.21 136.99,300.16 137.44,299.11 137.89,298.09 138.34,297.05 138.79,295.99 139.24,294.91 139.69,293.81 140.14,292.72 140.59,291.62 141.05,290.54 141.5,289.48 141.95,288.44 142.4,287.44 142.85,286.47 143.3,285.55 143.75,284.69 144.2,283.9 144.65,283.14 145.1,282.4 145.55,281.68 146,280.97 146.45,280.28 146.9,279.61 147.35,278.96 147.8,278.34 148.25,277.74 148.7,277.17 149.15,276.62 149.6,276.1 150.05,275.62 150.5,275.16 150.95,274.74 151.4,274.33 151.85,273.93 152.3,273.54 152.75,273.17 153.2,272.81 153.65,272.47 154.1,272.15 154.55,271.86 155,271.6 155.45,271.38 155.9,271.18 156.35,271.03 156.8,270.91 157.25,270.79 157.7,270.68 158.15,270.57 158.6,270.48 159.05,270.41 159.5,270.35 159.95,270.3 160.4,270.27 160.85,270.26 161.3,270.27 161.75,270.31 162.2,270.38 162.65,270.49 163.1,270.62 163.56,270.78 164.01,270.95 164.46,271.15 164.91,271.35 165.36,271.55 165.81,271.78 166.26,272.06 166.71,272.38 167.16,272.73 167.61,273.11 168.06,273.53 168.51,273.96 168.96,274.42 169.41,274.88 169.86,275.36 170.31,275.84 170.76,276.31 171.21,276.8 171.66,277.3 172.11,277.82 172.56,278.36 173.01,278.92 173.46,279.5 173.91,280.1 174.36,280.72 174.81,281.35 175.26,282.01 175.71,282.68 176.16,283.36 176.61,284.06 177.06,284.79 177.51,285.57 177.96,286.38 178.41,287.22 178.86,288.09 179.31,288.98 179.76,289.88 180.21,290.8 180.66,291.72 181.11,292.65 181.56,293.57 182.01,294.5 182.46,295.41 182.91,296.32 183.36,297.2 183.81,298.09 184.26,298.98 184.71,299.89 185.16,300.8 185.61,301.71 186.07,302.62 186.52,303.53 186.97,304.43 187.42,305.34 187.87,306.23 188.32,307.12 188.77,307.99 189.22,308.86 189.67,309.7 190.12,310.53 190.57,311.33 191.02,312.12 191.47,312.88 191.92,313.61 192.37,314.33 192.82,315.04 193.27,315.75 193.72,316.44 194.17,317.13 194.62,317.81 195.07,318.47 195.52,319.12 195.97,319.76 196.42,320.38 196.87,320.98 197.32,321.56 197.77,322.12 198.22,322.65 198.67,323.16 199.12,323.64 199.57,324.1 200.02,324.55 200.47,324.99 200.92,325.41 201.37,325.82 201.82,326.22 202.27,326.6 202.72,326.96 203.17,327.31 203.62,327.63 204.07,327.94 204.52,328.23 204.97,328.5 205.42,328.75 205.87,328.99 206.32,329.21 206.77,329.42 207.22,329.62 207.67,329.81 208.12,330 208.58,330.18 209.03,330.36 209.48,330.55 209.93,330.73 210.38,330.92 210.83,331.11 211.28,331.29 211.73,331.47 212.18,331.64 212.63,331.81 213.08,331.98 213.53,332.14 213.98,332.29 214.43,332.44 214.88,332.59 215.33,332.73 215.78,332.86 216.23,332.99 216.68,333.12 217.13,333.24 217.58,333.36 218.03,333.48 218.48,333.59 218.93,333.69 219.38,333.79 219.83,333.89 220.28,333.98 220.73,334.07 221.18,334.17 221.63,334.26 222.08,334.34 222.53,334.43 222.98,334.51 223.43,334.59 223.88,334.66 224.33,334.73 224.78,334.8 225.23,334.86 225.68,334.91 226.13,334.96 226.58,335.01 227.03,335.05 227.48,335.09 227.93,335.13 228.38,335.17 228.83,335.2 229.28,335.24 229.73,335.27 230.18,335.31 230.63,335.34 231.09,335.37 231.54,335.4 231.99,335.42 232.44,335.45 232.89,335.47 233.34,335.5 233.79,335.52 234.24,335.54 234.69,335.56 235.14,335.57 235.59,335.59 236.04,335.6 236.49,335.62 236.94,335.63 237.39,335.65 237.84,335.66 238.29,335.68 238.74,335.69 239.19,335.7 239.64,335.71 240.09,335.72 240.54,335.74 240.99,335.75 241.44,335.76 241.89,335.76 242.34,335.77 242.79,335.78 243.24,335.79 243.69,335.8 244.14,335.8 244.59,335.81 245.04,335.81 245.49,335.82 245.94,335.82 246.39,335.83 246.84,335.83 247.29,335.83 247.74,335.84 248.19,335.84 248.64,335.84 249.09,335.85 249.54,335.85 249.99,335.85 250.44,335.85 250.89,335.86 251.34,335.86 251.79,335.86 252.24,335.86 252.69,335.87 253.14,335.87 253.6,335.87 254.05,335.87 254.5,335.88 254.95,335.88 255.4,335.88 255.85,335.88 256.3,335.88 256.75,335.89 257.2,335.89 257.65,335.89 258.1,335.89 258.55,335.89 259,335.89 259.45,335.89 259.9,335.89 260.35,335.9 260.8,335.9 261.25,335.9 261.7,335.9 262.15,335.9 262.6,335.9 263.05,335.9 263.5,335.9 263.95,335.9 264.4,335.9" fill="none" stroke="#70ad47" stroke-width="0.9" stroke-linejoin="round" stroke-opacity="0.75"/>
<polyline points="39.3,178.81 39.75,178.81 40.2,178.81 40.65,178.81 41.1,178.81 41.55,178.81 42,178.81 42.45,178.81 42.9,178.81 43.35,178.81 43.8,186.2 44.25,199.58 44.7,213.14 45.15,225.91 45.6,237.04 46.05,246.54 46.5,254.96 46.95,262.13 47.4,268.28 47.85,273.64 48.3,278.11 48.75,281.81 49.2,284.97 49.65,287.58 50.1,289.8 50.55,291.69 51.01,293.08 51.46,294.09 51.91,294.92 52.36,295.57 52.81,296.01 53.26,296.34 53.71,296.62 54.16,296.86 54.61,297.05 55.06,297.19 55.51,297.29 55.96,297.37 56.41,297.43 56.86,297.49 57.31,297.54 57.76,297.58 58.21,297.61 58.66,297.62 59.11,297.61 59.56,297.58 60.01,297.53 60.46,297.49 60.91,297.44 61.36,297.41 61.81,297.38 62.26,297.36 62.71,297.35 63.16,297.36 63.61,297.38 64.06,297.41 64.51,297.42 64.96,297.4 65.41,297.34 65.86,297.26 66.31,297.15 66.76,297.02 67.21,296.88 67.66,296.67 68.11,296.35 68.56,295.95 69.01,295.52 69.46,295.09 69.91,294.7 70.36,294.36 70.81,294.04 71.26,293.72 71.71,293.37 72.16,292.98 72.61,292.51 73.06,291.94 73.52,291.28 73.97,290.52 74.42,289.69 74.87,288.79 75.32,287.84 75.77,286.85 76.22,285.83 76.67,284.78 77.12,283.67 77.57,282.45 78.02,281.15 78.47,279.77 78.92,278.33 79.37,276.86 79.82,275.37 80.27,273.87 80.72,272.38 81.17,270.83 81.62,269.23 82.07,267.59 82.52,265.92 82.97,264.24 83.42,262.57 83.87,260.9 84.32,259.28 84.77,257.56 85.22,255.74 85.67,253.99 86.12,252.46 86.57,251.33 87.02,250.45 87.47,249.67 87.92,249.13 88.37,248.95 88.82,249.41 89.27,250.53 89.72,252 90.17,253.69 90.62,256.14 91.07,259.17 91.52,262.43 91.97,265.67 92.42,269.2 92.87,272.87 93.32,276.4 93.77,279.6 94.22,282.63 94.67,285.55 95.12,288.35 95.57,291.01 96.03,293.52 96.48,295.91 96.93,298.17 97.38,300.34 97.83,302.43 98.28,304.43 98.73,306.36 99.18,308.21 99.63,310.02 100.08,311.83 100.53,313.59 100.98,315.24 101.43,316.75 101.88,318.08 102.33,319.32 102.78,320.42 103.23,321.29 103.68,321.95 104.13,322.52 104.58,323.01 105.03,323.45 105.48,323.87 105.93,324.26 106.38,324.59 106.83,324.85 107.28,325.06 107.73,325.25 108.18,325.41 108.63,325.54 109.08,325.64 109.53,325.72 109.98,325.8 110.43,325.86 110.88,325.91 111.33,325.96 111.78,325.99 112.23,326.01 112.68,326.02 113.13,326.02 113.58,326.01 114.03,326 114.48,325.98 114.93,325.96 115.38,325.93 115.83,325.89 116.28,325.83 116.73,325.75 117.18,325.66 117.63,325.56 118.08,325.45 118.54,325.3 118.99,325.12 119.44,324.9 119.89,324.64 120.34,324.36 120.79,324.06 121.24,323.71 121.69,323.29 122.14,322.82 122.59,322.34 123.04,321.86 123.49,321.4 123.94,320.92 124.39,320.43 124.84,319.93 125.29,319.44 125.74,318.96 126.19,318.5 126.64,318.05 127.09,317.62 127.54,317.18 127.99,316.71 128.44,316.21 128.89,315.66 129.34,315.04 129.79,314.35 130.24,313.62 130.69,312.83 131.14,312 131.59,311.14 132.04,310.23 132.49,309.25 132.94,308.22 133.39,307.16 133.84,306.06 134.29,304.95 134.74,303.82 135.19,302.64 135.64,301.43 136.09,300.19 136.54,298.95 136.99,297.7 137.44,296.46 137.89,295.23 138.34,294 138.79,292.74 139.24,291.45 139.69,290.15 140.14,288.84 140.59,287.53 141.05,286.24 141.5,284.98 141.95,283.74 142.4,282.55 142.85,281.41 143.3,280.33 143.75,279.32 144.2,278.39 144.65,277.51 145.1,276.65 145.55,275.81 146,274.99 146.45,274.2 146.9,273.43 147.35,272.69 147.8,271.97 148.25,271.29 148.7,270.63 149.15,270.02 149.6,269.43 150.05,268.89 150.5,268.38 150.95,267.91 151.4,267.47 151.85,267.03 152.3,266.6 152.75,266.19 153.2,265.79 153.65,265.42 154.1,265.08 154.55,264.76 155,264.49 155.45,264.25 155.9,264.06 156.35,263.92 156.8,263.8 157.25,263.69 157.7,263.59 158.15,263.5 158.6,263.42 159.05,263.35 159.5,263.29 159.95,263.25 160.4,263.22 160.85,263.21 161.3,263.23 161.75,263.28 162.2,263.36 162.65,263.48 163.1,263.62 163.56,263.78 164.01,263.96 164.46,264.15 164.91,264.35 165.36,264.56 165.81,264.8 166.26,265.09 166.71,265.44 167.16,265.83 167.61,266.26 168.06,266.72 168.51,267.21 168.96,267.72 169.41,268.24 169.86,268.77 170.31,269.31 170.76,269.84 171.21,270.38 171.66,270.94 172.11,271.52 172.56,272.12 173.01,272.74 173.46,273.39 173.91,274.05 174.36,274.73 174.81,275.44 175.26,276.16 175.71,276.9 176.16,277.65 176.61,278.43 177.06,279.24 177.51,280.09 177.96,280.98 178.41,281.91 178.86,282.86 179.31,283.85 179.76,284.85 180.21,285.86 180.66,286.89 181.11,287.92 181.56,288.94 182.01,289.97 182.46,290.99 182.91,291.99 183.36,292.97 183.81,293.95 184.26,294.94 184.71,295.95 185.16,296.96 185.61,297.98 186.07,299 186.52,300.03 186.97,301.05 187.42,302.06 187.87,303.07 188.32,304.07 188.77,305.06 189.22,306.03 189.67,306.99 190.12,307.92 190.57,308.83 191.02,309.71 191.47,310.57 191.92,311.4 192.37,312.2 192.82,313 193.27,313.8 193.72,314.58 194.17,315.35 194.62,316.11 195.07,316.86 195.52,317.59 195.97,318.3 196.42,318.99 196.87,319.66 197.32,320.3 197.77,320.92 198.22,321.51 198.67,322.07 199.12,322.6 199.57,323.11 200.02,323.6 200.47,324.08 200.92,324.54 201.37,324.99 201.82,325.43 202.27,325.84 202.72,326.24 203.17,326.61 203.62,326.97 204.07,327.31 204.52,327.62 204.97,327.91 205.42,328.18 205.87,328.43 206.32,328.66 206.77,328.88 207.22,329.09 207.67,329.29 208.12,329.49 208.58,329.68 209.03,329.87 209.48,330.06 209.93,330.26 210.38,330.46 210.83,330.65 211.28,330.85 211.73,331.04 212.18,331.23 212.63,331.41 213.08,331.59 213.53,331.77 213.98,331.94 214.43,332.1 214.88,332.26 215.33,332.41 215.78,332.56 216.23,332.7 216.68,332.84 217.13,332.98 217.58,333.11 218.03,333.23 218.48,333.36 218.93,333.47 219.38,333.58 219.83,333.69 220.28,333.79 220.73,333.9 221.18,334 221.63,334.11 222.08,334.2 222.53,334.3 222.98,334.39 223.43,334.48 223.88,334.57 224.33,334.64 224.78,334.72 225.23,334.78 225.68,334.84 226.13,334.9 226.58,334.95 227.03,334.99 227.48,335.04 227.93,335.08 228.38,335.12 228.83,335.16 229.28,335.2 229.73,335.24 230.18,335.28 230.63,335.31 231.09,335.34 231.54,335.37 231.99,335.4 232.44,335.43 232.89,335.46 233.34,335.48 233.79,335.5 234.24,335.53 234.69,335.54 235.14,335.56 235.59,335.58 236.04,335.59 236.49,335.61 236.94,335.63 237.39,335.64 237.84,335.66 238.29,335.67 238.74,335.68 239.19,335.7 239.64,335.71 240.09,335.72 240.54,335.73 240.99,335.74 241.44,335.75 241.89,335.76 242.34,335.77 242.79,335.78 243.24,335.79 243.69,335.8 244.14,335.81 244.59,335.81 245.04,335.82 245.49,335.82 245.94,335.83 246.39,335.83 246.84,335.83 247.29,335.84 247.74,335.84 248.19,335.84 248.64,335.85 249.09,335.85 249.54,335.85 249.99,335.85 250.44,335.86 250.89,335.86 251.34,335.86 251.79,335.86 252.24,335.87 252.69,335.87 253.14,335.87 253.6,335.87 254.05,335.88 254.5,335.88 254.95,335.88 255.4,335.88 255.85,335.88 256.3,335.88 256.75,335.89 257.2,335.89 257.65,335.89 258.1,335.89 258.55,335.89 259,335.89 259.45,335.89 259.9,335.9 260.35,335.9 260.8,335.9 261.25,335.9 261.7,335.9 262.15,335.9 262.6,335.9 263.05,335.9 263.5,335.9 263.95,335.9 264.4,335.9" fill="none" stroke="#255e91" stroke-width="0.9" stroke-linejoin="round" stroke-opacity="0.75"/>
<polyline points="39.3,178.81 39.75,178.81 40.2,178.81 40.65,178.81 41.1,178.81 41.55,178.81 42,178.81 42.45,178.81 42.9,178.81 43.35,178.81 43.8,190.25 44.25,203.41 44.7,216.96 45.15,229.82 45.6,241.03 46.05,250.59 46.5,259.05 46.95,266.23 47.4,272.35 47.85,277.67 48.3,282.05 48.75,285.63 49.2,288.67 49.65,291.16 50.1,293.29 50.55,295.11 51.01,296.44 51.46,297.39 51.91,298.19 52.36,298.81 52.81,299.25 53.26,299.58 53.71,299.86 54.16,300.1 54.61,300.3 55.06,300.46 55.51,300.58 55.96,300.68 56.41,300.78 56.86,300.86 57.31,300.94 57.76,301.01 58.21,301.06 58.66,301.1 59.11,301.11 59.56,301.11 60.01,301.09 60.46,301.07 60.91,301.05 61.36,301.04 61.81,301.03 62.26,301.02 62.71,301.02 63.16,301.02 63.61,301.03 64.06,301.04 64.51,301.03 64.96,300.97 65.41,300.87 65.86,300.74 66.31,300.58 66.76,300.4 67.21,300.21 67.66,299.94 68.11,299.53 68.56,299.04 69.01,298.51 69.46,297.98 69.91,297.5 70.36,297.07 70.81,296.66 71.26,296.26 71.71,295.82 72.16,295.34 72.61,294.77 73.06,294.11 73.52,293.33 73.97,292.47 74.42,291.52 74.87,290.49 75.32,289.41 75.77,288.29 76.22,287.13 76.67,285.95 77.12,284.7 77.57,283.34 78.02,281.89 78.47,280.37 78.92,278.79 79.37,277.18 79.82,275.54 80.27,273.91 80.72,272.27 81.17,270.58 81.62,268.84 82.07,267.07 82.52,265.27 82.97,263.46 83.42,261.66 83.87,259.87 84.32,258.12 84.77,256.28 85.22,254.33 85.67,252.45 86.12,250.82 86.57,249.62 87.02,248.68 87.47,247.84 87.92,247.24 88.37,247.03 88.82,247.49 89.27,248.65 89.72,250.2 90.17,251.97 90.62,254.57 91.07,257.78 91.52,261.22 91.97,264.6 92.42,268.29 92.87,272.12 93.32,275.81 93.77,279.14 94.22,282.28 94.67,285.29 95.12,288.17 95.57,290.9 96.03,293.48 96.48,295.93 96.93,298.27 97.38,300.51 97.83,302.68 98.28,304.76 98.73,306.75 99.18,308.68 99.63,310.55 100.08,312.43 100.53,314.26 100.98,315.99 101.43,317.56 101.88,318.94 102.33,320.24 102.78,321.38 103.23,322.27 103.68,322.95 104.13,323.52 104.58,324.01 105.03,324.45 105.48,324.87 105.93,325.25 106.38,325.58 106.83,325.84 107.28,326.03 107.73,326.21 108.18,326.36 108.63,326.48 109.08,326.57 109.53,326.63 109.98,326.7 110.43,326.75 110.88,326.79 111.33,326.82 111.78,326.84 112.23,326.85 112.68,326.85 113.13,326.84 113.58,326.82 114.03,326.8 114.48,326.77 114.93,326.74 115.38,326.7 115.83,326.64 116.28,326.57 116.73,326.48 117.18,326.37 117.63,326.25 118.08,326.13 118.54,325.97 118.99,325.76 119.44,325.52 119.89,325.24 120.34,324.94 120.79,324.61 121.24,324.23 121.69,323.78 122.14,323.28 122.59,322.76 123.04,322.25 123.49,321.75 123.94,321.23 124.39,320.71 124.84,320.19 125.29,319.67 125.74,319.16 126.19,318.67 126.64,318.2 127.09,317.74 127.54,317.28 127.99,316.79 128.44,316.26 128.89,315.68 129.34,315.03 129.79,314.32 130.24,313.55 130.69,312.72 131.14,311.86 131.59,310.96 132.04,310 132.49,308.98 132.94,307.89 133.39,306.77 133.84,305.61 134.29,304.44 134.74,303.24 135.19,301.99 135.64,300.7 136.09,299.4 136.54,298.07 136.99,296.75 137.44,295.43 137.89,294.13 138.34,292.83 138.79,291.49 139.24,290.12 139.69,288.74 140.14,287.35 140.59,285.96 141.05,284.59 141.5,283.24 141.95,281.93 142.4,280.67 142.85,279.46 143.3,278.32 143.75,277.25 144.2,276.27 144.65,275.35 145.1,274.44 145.55,273.56 146,272.7 146.45,271.86 146.9,271.05 147.35,270.27 147.8,269.52 148.25,268.8 148.7,268.12 149.15,267.48 149.6,266.87 150.05,266.3 150.5,265.77 150.95,265.29 151.4,264.83 151.85,264.38 152.3,263.93 152.75,263.5 153.2,263.09 153.65,262.71 154.1,262.35 154.55,262.03 155,261.75 155.45,261.51 155.9,261.32 156.35,261.18 156.8,261.07 157.25,260.97 157.7,260.87 158.15,260.78 158.6,260.7 159.05,260.63 159.5,260.58 159.95,260.53 160.4,260.51 160.85,260.5 161.3,260.52 161.75,260.58 162.2,260.66 162.65,260.78 163.1,260.93 163.56,261.09 164.01,261.27 164.46,261.46 164.91,261.66 165.36,261.87 165.81,262.11 166.26,262.41 166.71,262.77 167.16,263.17 167.61,263.62 168.06,264.1 168.51,264.61 168.96,265.14 169.41,265.69 169.86,266.24 170.31,266.8 170.76,267.35 171.21,267.91 171.66,268.49 172.11,269.09 172.56,269.72 173.01,270.37 173.46,271.04 173.91,271.72 174.36,272.43 174.81,273.16 175.26,273.91 175.71,274.68 176.16,275.46 176.61,276.26 177.06,277.1 177.51,277.98 177.96,278.9 178.41,279.86 178.86,280.85 179.31,281.87 179.76,282.91 180.21,283.96 180.66,285.03 181.11,286.09 181.56,287.16 182.01,288.23 182.46,289.28 182.91,290.32 183.36,291.34 183.81,292.36 184.26,293.39 184.71,294.43 185.16,295.49 185.61,296.55 186.07,297.61 186.52,298.68 186.97,299.75 187.42,300.81 187.87,301.86 188.32,302.9 188.77,303.93 189.22,304.95 189.67,305.94 190.12,306.92 190.57,307.87 191.02,308.79 191.47,309.68 191.92,310.54 192.37,311.38 192.82,312.22 193.27,313.05 193.72,313.86 194.17,314.67 194.62,315.46 195.07,316.24 195.52,317 195.97,317.74 196.42,318.46 196.87,319.15 197.32,319.82 197.77,320.46 198.22,321.07 198.67,321.65 199.12,322.2 199.57,322.72 200.02,323.23 200.47,323.73 200.92,324.21 201.37,324.67 201.82,325.12 202.27,325.55 202.72,325.96 203.17,326.35 203.62,326.72 204.07,327.06 204.52,327.38 204.97,327.68 205.42,327.96 205.87,328.21 206.32,328.45 206.77,328.68 207.22,328.89 207.67,329.1 208.12,329.29 208.58,329.49 209.03,329.68 209.48,329.88 209.93,330.08 210.38,330.28 210.83,330.48 211.28,330.68 211.73,330.87 212.18,331.07 212.63,331.26 213.08,331.44 213.53,331.63 213.98,331.8 214.43,331.97 214.88,332.13 215.33,332.29 215.78,332.44 216.23,332.59 216.68,332.73 217.13,332.87 217.58,333.01 218.03,333.14 218.48,333.27 218.93,333.39 219.38,333.5 219.83,333.61 220.28,333.72 220.73,333.83 221.18,333.94 221.63,334.05 222.08,334.15 222.53,334.25 222.98,334.35 223.43,334.44 223.88,334.53 224.33,334.61 224.78,334.69 225.23,334.76 225.68,334.82 226.13,334.87 226.58,334.92 227.03,334.97 227.48,335.02 227.93,335.06 228.38,335.11 228.83,335.15 229.28,335.19 229.73,335.23 230.18,335.27 230.63,335.3 231.09,335.33 231.54,335.37 231.99,335.4 232.44,335.42 232.89,335.45 233.34,335.48 233.79,335.5 234.24,335.52 234.69,335.54 235.14,335.56 235.59,335.57 236.04,335.59 236.49,335.61 236.94,335.62 237.39,335.64 237.84,335.65 238.29,335.67 238.74,335.68 239.19,335.69 239.64,335.71 240.09,335.72 240.54,335.73 240.99,335.74 241.44,335.75 241.89,335.76 242.34,335.77 242.79,335.78 243.24,335.79 243.69,335.8 244.14,335.81 244.59,335.81 245.04,335.82 245.49,335.82 245.94,335.83 246.39,335.83 246.84,335.83 247.29,335.84 247.74,335.84 248.19,335.84 248.64,335.85 249.09,335.85 249.54,335.85 249.99,335.85 250.44,335.86 250.89,335.86 251.34,335.86 251.79,335.86 252.24,335.87 252.69,335.87 253.14,335.87 253.6,335.87 254.05,335.88 254.5,335.88 254.95,335.88 255.4,335.88 255.85,335.88 256.3,335.88 256.75,335.89 257.2,335.89 257.65,335.89 258.1,335.89 258.55,335.89 259,335.89 259.45,335.89 259.9,335.9 260.35,335.9 260.8,335.9 261.25,335.9 261.7,335.9 262.15,335.9 262.6,335.9 263.05,335.9 263.5,335.9 263.95,335.9 264.4,335.9" fill="none" stroke="#9e480e" stroke-width="0.9" stroke-linejoin="round" stroke-opacity="0.75"/>
<polyline points="39.3,178.81 39.75,178.81 40.2,178.81 40.65,178.81 41.1,178.81 41.55,178.81 42,178.81 42.45,178.81 42.9,178.81 43.35,179.22 43.8,191.33 44.25,204.43 44.7,217.98 45.15,230.87 45.6,242.1 46.05,251.67 46.5,260.14 46.95,267.33 47.4,273.44 47.85,278.74 48.3,283.1 48.75,286.65 49.2,289.65 49.65,292.12 50.1,294.23 50.55,296.02 51.01,297.33 51.46,298.28 51.91,299.06 52.36,299.67 52.81,300.11 53.26,300.44 53.71,300.73 54.16,300.97 54.61,301.17 55.06,301.33 55.51,301.46 55.96,301.56 56.41,301.67 56.86,301.76 57.31,301.85 57.76,301.92 58.21,301.98 58.66,302.02 59.11,302.05 59.56,302.05 60.01,302.04 60.46,302.02 60.91,302.01 61.36,302.01 61.81,302 62.26,301.99 62.71,301.99 63.16,301.99 63.61,302 64.06,302.01 64.51,301.99 64.96,301.92 65.41,301.81 65.86,301.67 66.31,301.5 66.76,301.31 67.21,301.1 67.66,300.81 68.11,300.38 68.56,299.87 69.01,299.31 69.46,298.75 69.91,298.24 70.36,297.79 70.81,297.36 71.26,296.93 71.71,296.48 72.16,295.97 72.61,295.38 73.06,294.68 73.52,293.88 73.97,292.98 74.42,292 74.87,290.95 75.32,289.83 75.77,288.67 76.22,287.48 76.67,286.26 77.12,284.97 77.57,283.58 78.02,282.09 78.47,280.53 78.92,278.92 79.37,277.26 79.82,275.59 80.27,273.91 80.72,272.24 81.17,270.51 81.62,268.74 82.07,266.93 82.52,265.09 82.97,263.25 83.42,261.41 83.87,259.6 84.32,257.82 84.77,255.94 85.22,253.96 85.67,252.05 86.12,250.39 86.57,249.16 87.02,248.21 87.47,247.36 87.92,246.74 88.37,246.51 88.82,246.98 89.27,248.16 89.72,249.72 90.17,251.51 90.62,254.15 91.07,257.41 91.52,260.89 91.97,264.32 92.42,268.05 92.87,271.92 93.32,275.65 93.77,279.01 94.22,282.19 94.67,285.23 95.12,288.12 95.57,290.87 96.03,293.47 96.48,295.94 96.93,298.3 97.38,300.56 97.83,302.75 98.28,304.84 98.73,306.86 99.18,308.8 99.63,310.69 100.08,312.58 100.53,314.43 100.98,316.18 101.43,317.77 101.88,319.17 102.33,320.47 102.78,321.62 103.23,322.52 103.68,323.2 104.13,323.77 104.58,324.26 105.03,324.7 105.48,325.11 105.93,325.49 106.38,325.81 106.83,326.06 107.28,326.25 107.73,326.42 108.18,326.56 108.63,326.68 109.08,326.75 109.53,326.81 109.98,326.86 110.43,326.9 110.88,326.93 111.33,326.95 111.78,326.95 112.23,326.95 112.68,326.93 113.13,326.9 113.58,326.86 114.03,326.82 114.48,326.77 114.93,326.72 115.38,326.65 115.83,326.57 116.28,326.47 116.73,326.35 117.18,326.22 117.63,326.07 118.08,325.92 118.54,325.73 118.99,325.5 119.44,325.23 119.89,324.93 120.34,324.61 120.79,324.27 121.24,323.88 121.69,323.42 122.14,322.92 122.59,322.41 123.04,321.91 123.49,321.42 123.94,320.92 124.39,320.42 124.84,319.92 125.29,319.42 125.74,318.93 126.19,318.47 126.64,318.02 127.09,317.59 127.54,317.15 127.99,316.69 128.44,316.19 128.89,315.65 129.34,315.04 129.79,314.37 130.24,313.64 130.69,312.87 131.14,312.05 131.59,311.21 132.04,310.32 132.49,309.37 132.94,308.36 133.39,307.32 133.84,306.26 134.29,305.18 134.74,304.07 135.19,302.93 135.64,301.75 136.09,300.55 136.54,299.34 136.99,298.13 137.44,296.93 137.89,295.74 138.34,294.55 138.79,293.32 139.24,292.07 139.69,290.81 140.14,289.54 140.59,288.27 141.05,287.02 141.5,285.79 141.95,284.59 142.4,283.43 142.85,282.33 143.3,281.28 143.75,280.29 144.2,279.39 144.65,278.54 145.1,277.7 145.55,276.88 146,276.08 146.45,275.31 146.9,274.56 147.35,273.83 147.8,273.13 148.25,272.46 148.7,271.83 149.15,271.22 149.6,270.65 150.05,270.11 150.5,269.62 150.95,269.16 151.4,268.72 151.85,268.29 152.3,267.87 152.75,267.46 153.2,267.07 153.65,266.71 154.1,266.37 154.55,266.06 155,265.79 155.45,265.55 155.9,265.36 156.35,265.22 156.8,265.1 157.25,264.99 157.7,264.89 158.15,264.79 158.6,264.71 159.05,264.64 159.5,264.58 159.95,264.54 160.4,264.51 160.85,264.5 161.3,264.51 161.75,264.56 162.2,264.65 162.65,264.76 163.1,264.9 163.56,265.06 164.01,265.24 164.46,265.43 164.91,265.63 165.36,265.84 165.81,266.07 166.26,266.36 166.71,266.7 167.16,267.09 167.61,267.51 168.06,267.96 168.51,268.44 168.96,268.94 169.41,269.46 169.86,269.98 170.31,270.5 170.76,271.02 171.21,271.55 171.66,272.1 172.11,272.67 172.56,273.26 173.01,273.87 173.46,274.5 173.91,275.16 174.36,275.83 174.81,276.52 175.26,277.23 175.71,277.95 176.16,278.7 176.61,279.46 177.06,280.25 177.51,281.09 177.96,281.97 178.41,282.88 178.86,283.82 179.31,284.78 179.76,285.77 180.21,286.76 180.66,287.77 181.11,288.78 181.56,289.79 182.01,290.8 182.46,291.79 182.91,292.78 183.36,293.74 183.81,294.71 184.26,295.68 184.71,296.67 185.16,297.66 185.61,298.66 186.07,299.66 186.52,300.67 186.97,301.67 187.42,302.66 187.87,303.65 188.32,304.63 188.77,305.6 189.22,306.55 189.67,307.48 190.12,308.4 190.57,309.29 191.02,310.15 191.47,310.99 191.92,311.8 192.37,312.59 192.82,313.38 193.27,314.15 193.72,314.92 194.17,315.68 194.62,316.42 195.07,317.16 195.52,317.87 195.97,318.57 196.42,319.25 196.87,319.9 197.32,320.53 197.77,321.14 198.22,321.72 198.67,322.27 199.12,322.79 199.57,323.29 200.02,323.77 200.47,324.24 200.92,324.7 201.37,325.14 201.82,325.57 202.27,325.98 202.72,326.37 203.17,326.74 203.62,327.09 204.07,327.42 204.52,327.73 204.97,328.02 205.42,328.28 205.87,328.53 206.32,328.76 206.77,328.98 207.22,329.19 207.67,329.39 208.12,329.58 208.58,329.77 209.03,329.96 209.48,330.15 209.93,330.35 210.38,330.54 210.83,330.74 211.28,330.93 211.73,331.12 212.18,331.3 212.63,331.49 213.08,331.66 213.53,331.84 213.98,332 214.43,332.16 214.88,332.32 215.33,332.47 215.78,332.61 216.23,332.75 216.68,332.89 217.13,333.03 217.58,333.15 218.03,333.28 218.48,333.4 218.93,333.51 219.38,333.62 219.83,333.72 220.28,333.83 220.73,333.93 221.18,334.03 221.63,334.13 222.08,334.23 222.53,334.32 222.98,334.42 223.43,334.5 223.88,334.58 224.33,334.66 224.78,334.73 225.23,334.8 225.68,334.86 226.13,334.91 226.58,334.96 227.03,335 227.48,335.05 227.93,335.09 228.38,335.13 228.83,335.17 229.28,335.21 229.73,335.25 230.18,335.28 230.63,335.32 231.09,335.35 231.54,335.38 231.99,335.41 232.44,335.43 232.89,335.46 233.34,335.48 233.79,335.51 234.24,335.53 234.69,335.55 235.14,335.56 235.59,335.58 236.04,335.6 236.49,335.61 236.94,335.63 237.39,335.64 237.84,335.66 238.29,335.67 238.74,335.68 239.19,335.7 239.64,335.71 240.09,335.72 240.54,335.73 240.99,335.74 241.44,335.75 241.89,335.76 242.34,335.77 242.79,335.78 243.24,335.79 243.69,335.8 244.14,335.8 244.59,335.81 245.04,335.82 245.49,335.82 245.94,335.83 246.39,335.83 246.84,335.83 247.29,335.84 247.74,335.84 248.19,335.84 248.64,335.84 249.09,335.85 249.54,335.85 249.99,335.85 250.44,335.86 250.89,335.86 251.34,335.86 251.79,335.86 252.24,335.87 252.69,335.87 253.14,335.87 253.6,335.87 254.05,335.88 254.5,335.88 254.95,335.88 255.4,335.88 255.85,335.88 256.3,335.88 256.75,335.89 257.2,335.89 257.65,335.89 258.1,335.89 258.55,335.89 259,335.89 259.45,335.89 259.9,335.9 260.35,335.9 260.8,335.9 261.25,335.9 261.7,335.9 262.15,335.9 262.6,335.9 263.05,335.9 263.5,335.9 263.95,335.9 264.4,335.9" fill="none" stroke="#636363" stroke-width="0.9" stroke-linejoin="round" stroke-opacity="0.75"/>
<polyline points="39.3,178.81 39.75,178.81 40.2,178.81 40.65,178.81 41.1,178.81 41.55,178.81 42,178.81 42.45,178.81 42.9,178.81 43.35,180.4 43.8,192.41 44.25,205.46 44.7,219 45.15,231.91 45.6,243.16 46.05,252.75 46.5,261.24 46.95,268.42 47.4,274.53 47.85,279.82 48.3,284.15 48.75,287.67 49.2,290.64 49.65,293.08 50.1,295.16 50.55,296.93 51.01,298.23 51.46,299.16 51.91,299.93 52.36,300.54 52.81,300.98 53.26,301.31 53.71,301.59 54.16,301.84 54.61,302.04 55.06,302.2 55.51,302.34 55.96,302.45 56.41,302.56 56.86,302.66 57.31,302.75 57.76,302.83 58.21,302.9 58.66,302.95 59.11,302.98 59.56,302.99 60.01,302.98 60.46,302.98 60.91,302.98 61.36,302.97 61.81,302.97 62.26,302.97 62.71,302.97 63.16,302.97 63.61,302.97 64.06,302.97 64.51,302.95 64.96,302.87 65.41,302.75 65.86,302.6 66.31,302.41 66.76,302.21 67.21,301.99 67.66,301.68 68.11,301.23 68.56,300.69 69.01,300.11 69.46,299.53 69.91,298.99 70.36,298.51 70.81,298.06 71.26,297.61 71.71,297.13 72.16,296.6 72.61,295.98 73.06,295.26 73.52,294.43 73.97,293.5 74.42,292.49 74.87,291.4 75.32,290.25 75.77,289.06 76.22,287.82 76.67,286.57 77.12,285.24 77.57,283.81 78.02,282.29 78.47,280.69 78.92,279.04 79.37,277.35 79.82,275.64 80.27,273.92 80.72,272.21 81.17,270.45 81.62,268.64 82.07,266.79 82.52,264.92 82.97,263.04 83.42,261.17 83.87,259.32 84.32,257.51 84.77,255.6 85.22,253.58 85.67,251.64 86.12,249.95 86.57,248.7 87.02,247.74 87.47,246.87 87.92,246.24 88.37,246 88.82,246.47 89.27,247.66 89.72,249.24 90.17,251.06 90.62,253.74 91.07,257.04 91.52,260.57 91.97,264.03 92.42,267.81 92.87,271.72 93.32,275.49 93.77,278.89 94.22,282.09 94.67,285.16 95.12,288.07 95.57,290.84 96.03,293.46 96.48,295.95 96.93,298.32 97.38,300.61 97.83,302.81 98.28,304.93 98.73,306.96 99.18,308.92 99.63,310.83 100.08,312.74 100.53,314.61 100.98,316.38 101.43,317.98 101.88,319.39 102.33,320.71 102.78,321.87 103.23,322.78 103.68,323.46 104.13,324.03 104.58,324.52 105.03,324.95 105.48,325.36 105.93,325.74 106.38,326.06 106.83,326.3 107.28,326.49 107.73,326.65 108.18,326.79 108.63,326.9 109.08,326.97 109.53,327.02 109.98,327.06 110.43,327.09 110.88,327.11 111.33,327.13 111.78,327.12 112.23,327.11 112.68,327.08 113.13,327.04 113.58,326.99 114.03,326.93 114.48,326.87 114.93,326.81 115.38,326.73 115.83,326.63 116.28,326.51 116.73,326.38 117.18,326.23 117.63,326.07 118.08,325.9 118.54,325.69 118.99,325.45 119.44,325.17 119.89,324.85 120.34,324.52 120.79,324.17 121.24,323.77 121.69,323.3 122.14,322.8 122.59,322.28 123.04,321.79 123.49,321.3 123.94,320.81 124.39,320.31 124.84,319.81 125.29,319.32 125.74,318.84 126.19,318.39 126.64,317.95 127.09,317.53 127.54,317.1 127.99,316.65 128.44,316.16 128.89,315.63 129.34,315.04 129.79,314.39 130.24,313.68 130.69,312.93 131.14,312.14 131.59,311.32 132.04,310.45 132.49,309.53 132.94,308.56 133.39,307.55 133.84,306.53 134.29,305.49 134.74,304.43 135.19,303.33 135.64,302.19 136.09,301.04 136.54,299.88 136.99,298.71 137.44,297.56 137.89,296.42 138.34,295.27 138.79,294.09 139.24,292.89 139.69,291.68 140.14,290.46 140.59,289.25 141.05,288.05 141.5,286.87 141.95,285.72 142.4,284.61 142.85,283.54 143.3,282.53 143.75,281.58 144.2,280.71 144.65,279.89 145.1,279.08 145.55,278.29 146,277.52 146.45,276.77 146.9,276.04 147.35,275.34 147.8,274.66 148.25,274.01 148.7,273.4 149.15,272.81 149.6,272.25 150.05,271.73 150.5,271.25 150.95,270.8 151.4,270.37 151.85,269.95 152.3,269.54 152.75,269.14 153.2,268.76 153.65,268.4 154.1,268.07 154.55,267.77 155,267.5 155.45,267.26 155.9,267.07 156.35,266.93 156.8,266.81 157.25,266.7 157.7,266.59 158.15,266.49 158.6,266.41 159.05,266.33 159.5,266.28 159.95,266.23 160.4,266.2 160.85,266.19 161.3,266.21 161.75,266.25 162.2,266.33 162.65,266.44 163.1,266.58 163.56,266.74 164.01,266.92 164.46,267.11 164.91,267.31 165.36,267.52 165.81,267.75 166.26,268.04 166.71,268.37 167.16,268.75 167.61,269.16 168.06,269.6 168.51,270.06 168.96,270.55 169.41,271.05 169.86,271.56 170.31,272.07 170.76,272.58 171.21,273.09 171.66,273.63 172.11,274.18 172.56,274.76 173.01,275.36 173.46,275.97 173.91,276.61 174.36,277.27 174.81,277.94 175.26,278.63 175.71,279.34 176.16,280.07 176.61,280.81 177.06,281.59 177.51,282.41 177.96,283.26 178.41,284.15 178.86,285.07 179.31,286.02 179.76,286.98 180.21,287.95 180.66,288.93 181.11,289.92 181.56,290.9 182.01,291.88 182.46,292.86 182.91,293.82 183.36,294.76 183.81,295.7 184.26,296.65 184.71,297.62 185.16,298.58 185.61,299.56 186.07,300.53 186.52,301.51 186.97,302.48 187.42,303.45 187.87,304.41 188.32,305.36 188.77,306.3 189.22,307.23 189.67,308.13 190.12,309.02 190.57,309.89 191.02,310.73 191.47,311.55 191.92,312.33 192.37,313.1 192.82,313.87 193.27,314.62 193.72,315.37 194.17,316.11 194.62,316.83 195.07,317.54 195.52,318.24 195.97,318.92 196.42,319.58 196.87,320.22 197.32,320.84 197.77,321.43 198.22,322 198.67,322.53 199.12,323.04 199.57,323.53 200.02,324 200.47,324.46 200.92,324.91 201.37,325.34 201.82,325.76 202.27,326.16 202.72,326.54 203.17,326.91 203.62,327.25 204.07,327.58 204.52,327.88 204.97,328.16 205.42,328.42 205.87,328.66 206.32,328.89 206.77,329.11 207.22,329.31 207.67,329.51 208.12,329.7 208.58,329.89 209.03,330.08 209.48,330.27 209.93,330.46 210.38,330.65 210.83,330.84 211.28,331.03 211.73,331.22 212.18,331.4 212.63,331.58 213.08,331.76 213.53,331.92 213.98,332.09 214.43,332.25 214.88,332.4 215.33,332.54 215.78,332.69 216.23,332.82 216.68,332.96 217.13,333.09 217.58,333.22 218.03,333.34 218.48,333.45 218.93,333.56 219.38,333.67 219.83,333.77 220.28,333.87 220.73,333.97 221.18,334.07 221.63,334.17 222.08,334.26 222.53,334.36 222.98,334.44 223.43,334.53 223.88,334.61 224.33,334.68 224.78,334.75 225.23,334.82 225.68,334.87 226.13,334.93 226.58,334.97 227.03,335.02 227.48,335.06 227.93,335.1 228.38,335.14 228.83,335.18 229.28,335.22 229.73,335.25 230.18,335.29 230.63,335.32 231.09,335.35 231.54,335.38 231.99,335.41 232.44,335.44 232.89,335.46 233.34,335.49 233.79,335.51 234.24,335.53 234.69,335.55 235.14,335.57 235.59,335.58 236.04,335.6 236.49,335.61 236.94,335.63 237.39,335.64 237.84,335.66 238.29,335.67 238.74,335.69 239.19,335.7 239.64,335.71 240.09,335.72 240.54,335.73 240.99,335.74 241.44,335.76 241.89,335.76 242.34,335.77 242.79,335.78 243.24,335.79 243.69,335.8 244.14,335.8 244.59,335.81 245.04,335.82 245.49,335.82 245.94,335.82 246.39,335.83 246.84,335.83 247.29,335.83 247.74,335.84 248.19,335.84 248.64,335.84 249.09,335.85 249.54,335.85 249.99,335.85 250.44,335.86 250.89,335.86 251.34,335.86 251.79,335.86 252.24,335.87 252.69,335.87 253.14,335.87 253.6,335.87 254.05,335.87 254.5,335.88 254.95,335.88 255.4,335.88 255.85,335.88 256.3,335.88 256.75,335.89 257.2,335.89 257.65,335.89 258.1,335.89 258.55,335.89 259,335.89 259.45,335.89 259.9,335.89 260.35,335.9 260.8,335.9 261.25,335.9 261.7,335.9 262.15,335.9 262.6,335.9 263.05,335.9 263.5,335.9 263.95,335.9 264.4,335.9" fill="none" stroke="#997300" stroke-width="0.9" stroke-linejoin="round" stroke-opacity="0.75"/>
<polyline points="39.3,178.81 39.75,178.81 40.2,178.81 40.65,178.81 41.1,178.81 41.55,178.81 42,178.81 42.45,178.81 42.9,178.81 43.35,181 43.8,192.95 44.25,205.97 44.7,219.51 45.15,232.44 45.6,243.69 46.05,253.29 46.5,261.78 46.95,268.97 47.4,275.07 47.85,280.36 48.3,284.67 48.75,288.18 49.2,291.13 49.65,293.55 50.1,295.62 50.55,297.39 51.01,298.68 51.46,299.6 51.91,300.36 52.36,300.97 52.81,301.41 53.26,301.74 53.71,302.02 54.16,302.27 54.61,302.47 55.06,302.64 55.51,302.77 55.96,302.89 56.41,303 56.86,303.11 57.31,303.2 57.76,303.29 58.21,303.36 58.66,303.41 59.11,303.45 59.56,303.46 60.01,303.46 60.46,303.46 60.91,303.46 61.36,303.46 61.81,303.46 62.26,303.46 62.71,303.46 63.16,303.46 63.61,303.46 64.06,303.46 64.51,303.43 64.96,303.35 65.41,303.22 65.86,303.06 66.31,302.87 66.76,302.66 67.21,302.43 67.66,302.12 68.11,301.66 68.56,301.11 69.01,300.51 69.46,299.91 69.91,299.36 70.36,298.87 70.81,298.41 71.26,297.95 71.71,297.46 72.16,296.91 72.61,296.29 73.06,295.55 73.52,294.71 73.97,293.76 74.42,292.73 74.87,291.63 75.32,290.46 75.77,289.25 76.22,288 76.67,286.72 77.12,285.38 77.57,283.93 78.02,282.39 78.47,280.77 78.92,279.1 79.37,277.39 79.82,275.66 80.27,273.93 80.72,272.2 81.17,270.41 81.62,268.58 82.07,266.72 82.52,264.83 82.97,262.94 83.42,261.05 83.87,259.19 84.32,257.36 84.77,255.43 85.22,253.39 85.67,251.43 86.12,249.73 86.57,248.48 87.02,247.5 87.47,246.63 87.92,245.99 88.37,245.74 88.82,246.21 89.27,247.41 89.72,249 90.17,250.83 90.62,253.53 91.07,256.86 91.52,260.41 91.97,263.89 92.42,267.69 92.87,271.63 93.32,275.41 93.77,278.83 94.22,282.05 94.67,285.12 95.12,288.05 95.57,290.82 96.03,293.45 96.48,295.95 96.93,298.34 97.38,300.63 97.83,302.85 98.28,304.97 98.73,307.01 99.18,308.98 99.63,310.9 100.08,312.82 100.53,314.7 100.98,316.47 101.43,318.09 101.88,319.5 102.33,320.83 102.78,321.99 103.23,322.9 103.68,323.58 104.13,324.15 104.58,324.64 105.03,325.07 105.48,325.48 105.93,325.85 106.38,326.17 106.83,326.41 107.28,326.6 107.73,326.76 108.18,326.89 108.63,326.99 109.08,327.05 109.53,327.1 109.98,327.13 110.43,327.16 110.88,327.18 111.33,327.18 111.78,327.17 112.23,327.14 112.68,327.1 113.13,327.05 113.58,326.99 114.03,326.93 114.48,326.85 114.93,326.77 115.38,326.68 115.83,326.57 116.28,326.44 116.73,326.29 117.18,326.12 117.63,325.95 118.08,325.76 118.54,325.54 118.99,325.28 119.44,324.98 119.89,324.66 120.34,324.31 120.79,323.95 121.24,323.54 121.69,323.07 122.14,322.57 122.59,322.07 123.04,321.58 123.49,321.1 123.94,320.62 124.39,320.13 124.84,319.65 125.29,319.17 125.74,318.71 126.19,318.26 126.64,317.85 127.09,317.44 127.54,317.02 127.99,316.59 128.44,316.12 128.89,315.61 129.34,315.04 129.79,314.42 130.24,313.74 130.69,313.02 131.14,312.26 131.59,311.47 132.04,310.64 132.49,309.76 132.94,308.84 133.39,307.89 133.84,306.92 134.29,305.94 134.74,304.94 135.19,303.9 135.64,302.83 136.09,301.75 136.54,300.65 136.99,299.56 137.44,298.47 137.89,297.4 138.34,296.32 138.79,295.21 139.24,294.08 139.69,292.94 140.14,291.8 140.59,290.66 141.05,289.53 141.5,288.42 141.95,287.34 142.4,286.29 142.85,285.29 143.3,284.34 143.75,283.44 144.2,282.62 144.65,281.83 145.1,281.07 145.55,280.32 146,279.58 146.45,278.87 146.9,278.18 147.35,277.51 147.8,276.87 148.25,276.25 148.7,275.66 149.15,275.09 149.6,274.56 150.05,274.06 150.5,273.59 150.95,273.16 151.4,272.75 151.85,272.34 152.3,271.94 152.75,271.55 153.2,271.19 153.65,270.84 154.1,270.52 154.55,270.23 155,269.96 155.45,269.73 155.9,269.54 156.35,269.39 156.8,269.27 157.25,269.15 157.7,269.04 158.15,268.94 158.6,268.85 159.05,268.78 159.5,268.72 159.95,268.68 160.4,268.65 160.85,268.63 161.3,268.64 161.75,268.69 162.2,268.76 162.65,268.87 163.1,269 163.56,269.16 164.01,269.34 164.46,269.53 164.91,269.73 165.36,269.94 165.81,270.17 166.26,270.45 166.71,270.78 167.16,271.14 167.61,271.53 168.06,271.96 168.51,272.4 168.96,272.87 169.41,273.35 169.86,273.84 170.31,274.33 170.76,274.82 171.21,275.31 171.66,275.83 172.11,276.37 172.56,276.92 173.01,277.5 173.46,278.09 173.91,278.7 174.36,279.34 174.81,279.99 175.26,280.66 175.71,281.34 176.16,282.04 176.61,282.76 177.06,283.51 177.51,284.3 177.96,285.13 178.41,285.99 178.86,286.88 179.31,287.79 179.76,288.72 180.21,289.66 180.66,290.61 181.11,291.56 181.56,292.51 182.01,293.45 182.46,294.39 182.91,295.32 183.36,296.23 183.81,297.13 184.26,298.05 184.71,298.98 185.16,299.91 185.61,300.85 186.07,301.78 186.52,302.72 186.97,303.65 187.42,304.58 187.87,305.5 188.32,306.42 188.77,307.32 189.22,308.2 189.67,309.07 190.12,309.93 190.57,310.76 191.02,311.56 191.47,312.35 191.92,313.1 192.37,313.84 192.82,314.57 193.27,315.3 193.72,316.01 194.17,316.72 194.62,317.42 195.07,318.1 195.52,318.77 195.97,319.42 196.42,320.06 196.87,320.68 197.32,321.27 197.77,321.84 198.22,322.39 198.67,322.91 199.12,323.4 199.57,323.87 200.02,324.33 200.47,324.78 200.92,325.21 201.37,325.63 201.82,326.03 202.27,326.42 202.72,326.79 203.17,327.15 203.62,327.48 204.07,327.8 204.52,328.09 204.97,328.36 205.42,328.62 205.87,328.86 206.32,329.08 206.77,329.29 207.22,329.5 207.67,329.69 208.12,329.88 208.58,330.07 209.03,330.25 209.48,330.44 209.93,330.62 210.38,330.81 210.83,331 211.28,331.19 211.73,331.37 212.18,331.55 212.63,331.72 213.08,331.89 213.53,332.05 213.98,332.21 214.43,332.36 214.88,332.51 215.33,332.65 215.78,332.79 216.23,332.93 216.68,333.06 217.13,333.18 217.58,333.3 218.03,333.42 218.48,333.53 218.93,333.64 219.38,333.74 219.83,333.84 220.28,333.94 220.73,334.03 221.18,334.13 221.63,334.22 222.08,334.31 222.53,334.4 222.98,334.48 223.43,334.57 223.88,334.64 224.33,334.71 224.78,334.78 225.23,334.84 225.68,334.9 226.13,334.95 226.58,334.99 227.03,335.04 227.48,335.08 227.93,335.12 228.38,335.16 228.83,335.2 229.28,335.23 229.73,335.27 230.18,335.3 230.63,335.33 231.09,335.36 231.54,335.39 231.99,335.42 232.44,335.44 232.89,335.47 233.34,335.49 233.79,335.51 234.24,335.53 234.69,335.55 235.14,335.57 235.59,335.59 236.04,335.6 236.49,335.62 236.94,335.63 237.39,335.65 237.84,335.66 238.29,335.67 238.74,335.69 239.19,335.7 239.64,335.71 240.09,335.72 240.54,335.73 240.99,335.75 241.44,335.76 241.89,335.76 242.34,335.77 242.79,335.78 243.24,335.79 243.69,335.8 244.14,335.8 244.59,335.81 245.04,335.81 245.49,335.82 245.94,335.82 246.39,335.83 246.84,335.83 247.29,335.83 247.74,335.84 248.19,335.84 248.64,335.84 249.09,335.85 249.54,335.85 249.99,335.85 250.44,335.85 250.89,335.86 251.34,335.86 251.79,335.86 252.24,335.86 252.69,335.87 253.14,335.87 253.6,335.87 254.05,335.87 254.5,335.88 254.95,335.88 255.4,335.88 255.85,335.88 256.3,335.88 256.75,335.89 257.2,335.89 257.65,335.89 258.1,335.89 258.55,335.89 259,335.89 259.45,335.89 259.9,335.89 260.35,335.9 260.8,335.9 261.25,335.9 261.7,335.9 262.15,335.9 262.6,335.9 263.05,335.9 263.5,335.9 263.95,335.9 264.4,335.9" fill="none" stroke="#264478" stroke-width="0.9" stroke-linejoin="round" stroke-opacity="0.75"/>
</g>
<line x1="39.3" y1="199.3" x2="264.4" y2="199.3" stroke="#717171" stroke-width="1.25"/>
<line x1="264.4" y1="199.3" x2="264.4" y2="335.9" stroke="#717171" stroke-width="1.25"/>
<line x1="39.3" y1="198.8" x2="39.3" y2="336.4" stroke="#3a3a3a" stroke-width="1.2"/>
<line x1="38.8" y1="335.9" x2="264.9" y2="335.9" stroke="#3a3a3a" stroke-width="1.2"/>
<line x1="37.1" y1="335.9" x2="39.3" y2="335.9" stroke="#3a3a3a" stroke-width="1"/>
<text x="33" y="336.5" font-size="6.3" text-anchor="end" fill="#2e2e2e" dominant-baseline="central" stroke="#2e2e2e" stroke-width="0.2">0.0</text>
<line x1="37.1" y1="322.24" x2="39.3" y2="322.24" stroke="#3a3a3a" stroke-width="1"/>
<text x="33" y="322.84" font-size="6.3" text-anchor="end" fill="#2e2e2e" dominant-baseline="central" stroke="#2e2e2e" stroke-width="0.2">0.2</text>
<line x1="37.1" y1="308.58" x2="39.3" y2="308.58" stroke="#3a3a3a" stroke-width="1"/>
<text x="33" y="309.18" font-size="6.3" text-anchor="end" fill="#2e2e2e" dominant-baseline="central" stroke="#2e2e2e" stroke-width="0.2">0.4</text>
<line x1="37.1" y1="294.92" x2="39.3" y2="294.92" stroke="#3a3a3a" stroke-width="1"/>
<text x="33" y="295.52" font-size="6.3" text-anchor="end" fill="#2e2e2e" dominant-baseline="central" stroke="#2e2e2e" stroke-width="0.2">0.6</text>
<line x1="37.1" y1="281.26" x2="39.3" y2="281.26" stroke="#3a3a3a" stroke-width="1"/>
<text x="33" y="281.86" font-size="6.3" text-anchor="end" fill="#2e2e2e" dominant-baseline="central" stroke="#2e2e2e" stroke-width="0.2">0.8</text>
<line x1="37.1" y1="267.6" x2="39.3" y2="267.6" stroke="#3a3a3a" stroke-width="1"/>
<text x="33" y="268.2" font-size="6.3" text-anchor="end" fill="#2e2e2e" dominant-baseline="central" stroke="#2e2e2e" stroke-width="0.2">1.0</text>
<line x1="37.1" y1="253.94" x2="39.3" y2="253.94" stroke="#3a3a3a" stroke-width="1"/>
<text x="33" y="254.54" font-size="6.3" text-anchor="end" fill="#2e2e2e" dominant-baseline="central" stroke="#2e2e2e" stroke-width="0.2">1.2</text>
<line x1="37.1" y1="240.28" x2="39.3" y2="240.28" stroke="#3a3a3a" stroke-width="1"/>
<text x="33" y="240.88" font-size="6.3" text-anchor="end" fill="#2e2e2e" dominant-baseline="central" stroke="#2e2e2e" stroke-width="0.2">1.4</text>
<line x1="37.1" y1="226.62" x2="39.3" y2="226.62" stroke="#3a3a3a" stroke-width="1"/>
<text x="33" y="227.22" font-size="6.3" text-anchor="end" fill="#2e2e2e" dominant-baseline="central" stroke="#2e2e2e" stroke-width="0.2">1.6</text>
<line x1="37.1" y1="212.96" x2="39.3" y2="212.96" stroke="#3a3a3a" stroke-width="1"/>
<text x="33" y="213.56" font-size="6.3" text-anchor="end" fill="#2e2e2e" dominant-baseline="central" stroke="#2e2e2e" stroke-width="0.2">1.8</text>
<line x1="37.1" y1="199.3" x2="39.3" y2="199.3" stroke="#3a3a3a" stroke-width="1"/>
<text x="33" y="199.9" font-size="6.3" text-anchor="end" fill="#2e2e2e" dominant-baseline="central" stroke="#2e2e2e" stroke-width="0.2">2.0</text>
<line x1="39.3" y1="335.9" x2="39.3" y2="337.9" stroke="#3a3a3a" stroke-width="1"/>
<text x="39.3" y="346.4" font-size="6.3" text-anchor="middle" fill="#2e2e2e" dominant-baseline="central" stroke="#2e2e2e" stroke-width="0.2">300</text>
<line x1="84.32" y1="335.9" x2="84.32" y2="337.9" stroke="#3a3a3a" stroke-width="1"/>
<text x="84.32" y="346.4" font-size="6.3" text-anchor="middle" fill="#2e2e2e" dominant-baseline="central" stroke="#2e2e2e" stroke-width="0.2">400</text>
<line x1="129.34" y1="335.9" x2="129.34" y2="337.9" stroke="#3a3a3a" stroke-width="1"/>
<text x="129.34" y="346.4" font-size="6.3" text-anchor="middle" fill="#2e2e2e" dominant-baseline="central" stroke="#2e2e2e" stroke-width="0.2">500</text>
<line x1="174.36" y1="335.9" x2="174.36" y2="337.9" stroke="#3a3a3a" stroke-width="1"/>
<text x="174.36" y="346.4" font-size="6.3" text-anchor="middle" fill="#2e2e2e" dominant-baseline="central" stroke="#2e2e2e" stroke-width="0.2">600</text>
<line x1="219.38" y1="335.9" x2="219.38" y2="337.9" stroke="#3a3a3a" stroke-width="1"/>
<text x="219.38" y="346.4" font-size="6.3" text-anchor="middle" fill="#2e2e2e" dominant-baseline="central" stroke="#2e2e2e" stroke-width="0.2">700</text>
<line x1="264.4" y1="335.9" x2="264.4" y2="337.9" stroke="#3a3a3a" stroke-width="1"/>
<text x="264.4" y="346.4" font-size="6.3" text-anchor="middle" fill="#2e2e2e" dominant-baseline="central" stroke="#2e2e2e" stroke-width="0.2">800</text>
<text x="151.9" y="355.6" font-size="6.3" text-anchor="middle" fill="#2e2e2e" dominant-baseline="central" textLength="52.7" lengthAdjust="spacingAndGlyphs" stroke="#2e2e2e" stroke-width="0.2">Wavelength in nm</text>
<text x="19.1" y="268.5" font-size="6.6" text-anchor="middle" fill="#2e2e2e" dominant-baseline="central" textLength="41.5" lengthAdjust="spacingAndGlyphs" stroke="#2e2e2e" stroke-width="0.2" transform="rotate(-90 19.1 268.5)">ABS at 570 nm</text>
<line x1="201.2" y1="210" x2="208.1" y2="210" stroke="#5b9bd5" stroke-width="1" stroke-opacity="0.65"/>
<text x="208.8" y="211.2" font-size="6.3" text-anchor="start" fill="#2e2e2e" dominant-baseline="central" textLength="30.7" lengthAdjust="spacingAndGlyphs" stroke="#2e2e2e" stroke-width="0.2">0.00 moll L</text>
<text x="239.6" y="207.4" font-size="3.9059999999999997" text-anchor="start" fill="#2e2e2e" dominant-baseline="central" textLength="3.2" lengthAdjust="spacingAndGlyphs" stroke="#2e2e2e" stroke-width="0.2">−1</text>
<text x="245.6" y="211.2" font-size="6.3" text-anchor="start" fill="#2e2e2e" dominant-baseline="central" textLength="11.6" lengthAdjust="spacingAndGlyphs" stroke="#2e2e2e" stroke-width="0.2">HAc</text>
<line x1="201.2" y1="220.93" x2="208.1" y2="220.93" stroke="#ed7d31" stroke-width="1" stroke-opacity="0.65"/>
<text x="208.8" y="222.13" font-size="6.3" text-anchor="start" fill="#2e2e2e" dominant-baseline="central" textLength="30.7" lengthAdjust="spacingAndGlyphs" stroke="#2e2e2e" stroke-width="0.2">0.04 moll L</text>
<text x="239.6" y="218.33" font-size="3.9059999999999997" text-anchor="start" fill="#2e2e2e" dominant-baseline="central" textLength="3.2" lengthAdjust="spacingAndGlyphs" stroke="#2e2e2e" stroke-width="0.2">−1</text>
<text x="245.6" y="222.13" font-size="6.3" text-anchor="start" fill="#2e2e2e" dominant-baseline="central" textLength="11.6" lengthAdjust="spacingAndGlyphs" stroke="#2e2e2e" stroke-width="0.2">HAc</text>
<line x1="201.2" y1="231.86" x2="208.1" y2="231.86" stroke="#a5a5a5" stroke-width="1" stroke-opacity="0.65"/>
<text x="208.8" y="233.06" font-size="6.3" text-anchor="start" fill="#2e2e2e" dominant-baseline="central" textLength="30.7" lengthAdjust="spacingAndGlyphs" stroke="#2e2e2e" stroke-width="0.2">0.09 moll L</text>
<text x="239.6" y="229.26" font-size="3.9059999999999997" text-anchor="start" fill="#2e2e2e" dominant-baseline="central" textLength="3.2" lengthAdjust="spacingAndGlyphs" stroke="#2e2e2e" stroke-width="0.2">−1</text>
<text x="245.6" y="233.06" font-size="6.3" text-anchor="start" fill="#2e2e2e" dominant-baseline="central" textLength="11.6" lengthAdjust="spacingAndGlyphs" stroke="#2e2e2e" stroke-width="0.2">HAc</text>
<line x1="201.2" y1="242.79" x2="208.1" y2="242.79" stroke="#ffc000" stroke-width="1" stroke-opacity="0.65"/>
<text x="208.8" y="243.99" font-size="6.3" text-anchor="start" fill="#2e2e2e" dominant-baseline="central" textLength="30.7" lengthAdjust="spacingAndGlyphs" stroke="#2e2e2e" stroke-width="0.2">0.18 moll L</text>
<text x="239.6" y="240.19" font-size="3.9059999999999997" text-anchor="start" fill="#2e2e2e" dominant-baseline="central" textLength="3.2" lengthAdjust="spacingAndGlyphs" stroke="#2e2e2e" stroke-width="0.2">−1</text>
<text x="245.6" y="243.99" font-size="6.3" text-anchor="start" fill="#2e2e2e" dominant-baseline="central" textLength="11.6" lengthAdjust="spacingAndGlyphs" stroke="#2e2e2e" stroke-width="0.2">HAc</text>
<line x1="201.2" y1="253.72" x2="208.1" y2="253.72" stroke="#4472c4" stroke-width="1" stroke-opacity="0.65"/>
<text x="208.8" y="254.92" font-size="6.3" text-anchor="start" fill="#2e2e2e" dominant-baseline="central" textLength="30.7" lengthAdjust="spacingAndGlyphs" stroke="#2e2e2e" stroke-width="0.2">0.36 moll L</text>
<text x="239.6" y="251.12" font-size="3.9059999999999997" text-anchor="start" fill="#2e2e2e" dominant-baseline="central" textLength="3.2" lengthAdjust="spacingAndGlyphs" stroke="#2e2e2e" stroke-width="0.2">−1</text>
<text x="245.6" y="254.92" font-size="6.3" text-anchor="start" fill="#2e2e2e" dominant-baseline="central" textLength="11.6" lengthAdjust="spacingAndGlyphs" stroke="#2e2e2e" stroke-width="0.2">HAc</text>
<line x1="201.2" y1="264.65" x2="208.1" y2="264.65" stroke="#70ad47" stroke-width="1" stroke-opacity="0.65"/>
<text x="208.8" y="265.85" font-size="6.3" text-anchor="start" fill="#2e2e2e" dominant-baseline="central" textLength="30.7" lengthAdjust="spacingAndGlyphs" stroke="#2e2e2e" stroke-width="0.2">0.45 moll L</text>
<text x="239.6" y="262.05" font-size="3.9059999999999997" text-anchor="start" fill="#2e2e2e" dominant-baseline="central" textLength="3.2" lengthAdjust="spacingAndGlyphs" stroke="#2e2e2e" stroke-width="0.2">−1</text>
<text x="245.6" y="265.85" font-size="6.3" text-anchor="start" fill="#2e2e2e" dominant-baseline="central" textLength="11.6" lengthAdjust="spacingAndGlyphs" stroke="#2e2e2e" stroke-width="0.2">HAc</text>
<line x1="201.2" y1="275.58" x2="208.1" y2="275.58" stroke="#255e91" stroke-width="1" stroke-opacity="0.65"/>
<text x="208.8" y="276.78" font-size="6.3" text-anchor="start" fill="#2e2e2e" dominant-baseline="central" textLength="30.7" lengthAdjust="spacingAndGlyphs" stroke="#2e2e2e" stroke-width="0.2">0.72 moll L</text>
<text x="239.6" y="272.98" font-size="3.9059999999999997" text-anchor="start" fill="#2e2e2e" dominant-baseline="central" textLength="3.2" lengthAdjust="spacingAndGlyphs" stroke="#2e2e2e" stroke-width="0.2">−1</text>
<text x="245.6" y="276.78" font-size="6.3" text-anchor="start" fill="#2e2e2e" dominant-baseline="central" textLength="11.6" lengthAdjust="spacingAndGlyphs" stroke="#2e2e2e" stroke-width="0.2">HAc</text>
<line x1="201.2" y1="286.51" x2="208.1" y2="286.51" stroke="#9e480e" stroke-width="1" stroke-opacity="0.65"/>
<text x="208.8" y="287.71" font-size="6.3" text-anchor="start" fill="#2e2e2e" dominant-baseline="central" textLength="30.7" lengthAdjust="spacingAndGlyphs" stroke="#2e2e2e" stroke-width="0.2">0.90 moll L</text>
<text x="239.6" y="283.91" font-size="3.9059999999999997" text-anchor="start" fill="#2e2e2e" dominant-baseline="central" textLength="3.2" lengthAdjust="spacingAndGlyphs" stroke="#2e2e2e" stroke-width="0.2">−1</text>
<text x="245.6" y="287.71" font-size="6.3" text-anchor="start" fill="#2e2e2e" dominant-baseline="central" textLength="11.6" lengthAdjust="spacingAndGlyphs" stroke="#2e2e2e" stroke-width="0.2">HAc</text>
<line x1="201.2" y1="297.44" x2="208.1" y2="297.44" stroke="#636363" stroke-width="1" stroke-opacity="0.65"/>
<text x="208.8" y="298.64" font-size="6.3" text-anchor="start" fill="#2e2e2e" dominant-baseline="central" textLength="30.7" lengthAdjust="spacingAndGlyphs" stroke="#2e2e2e" stroke-width="0.2">1.08 moll L</text>
<text x="239.6" y="294.84" font-size="3.9059999999999997" text-anchor="start" fill="#2e2e2e" dominant-baseline="central" textLength="3.2" lengthAdjust="spacingAndGlyphs" stroke="#2e2e2e" stroke-width="0.2">−1</text>
<text x="245.6" y="298.64" font-size="6.3" text-anchor="start" fill="#2e2e2e" dominant-baseline="central" textLength="11.6" lengthAdjust="spacingAndGlyphs" stroke="#2e2e2e" stroke-width="0.2">HAc</text>
<line x1="201.2" y1="308.37" x2="208.1" y2="308.37" stroke="#997300" stroke-width="1" stroke-opacity="0.65"/>
<text x="208.8" y="309.57" font-size="6.3" text-anchor="start" fill="#2e2e2e" dominant-baseline="central" textLength="30.7" lengthAdjust="spacingAndGlyphs" stroke="#2e2e2e" stroke-width="0.2">1.44 moll L</text>
<text x="239.6" y="305.77" font-size="3.9059999999999997" text-anchor="start" fill="#2e2e2e" dominant-baseline="central" textLength="3.2" lengthAdjust="spacingAndGlyphs" stroke="#2e2e2e" stroke-width="0.2">−1</text>
<text x="245.6" y="309.57" font-size="6.3" text-anchor="start" fill="#2e2e2e" dominant-baseline="central" textLength="11.6" lengthAdjust="spacingAndGlyphs" stroke="#2e2e2e" stroke-width="0.2">HAc</text>
<line x1="201.2" y1="319.3" x2="208.1" y2="319.3" stroke="#264478" stroke-width="1" stroke-opacity="0.65"/>
<text x="208.8" y="320.5" font-size="6.3" text-anchor="start" fill="#2e2e2e" dominant-baseline="central" textLength="30.7" lengthAdjust="spacingAndGlyphs" stroke="#2e2e2e" stroke-width="0.2">1.80 moll L</text>
<text x="239.6" y="316.7" font-size="3.9059999999999997" text-anchor="start" fill="#2e2e2e" dominant-baseline="central" textLength="3.2" lengthAdjust="spacingAndGlyphs" stroke="#2e2e2e" stroke-width="0.2">−1</text>
<text x="245.6" y="320.5" font-size="6.3" text-anchor="start" fill="#2e2e2e" dominant-baseline="central" textLength="11.6" lengthAdjust="spacingAndGlyphs" stroke="#2e2e2e" stroke-width="0.2">HAc</text>
</svg>
</body></html>
